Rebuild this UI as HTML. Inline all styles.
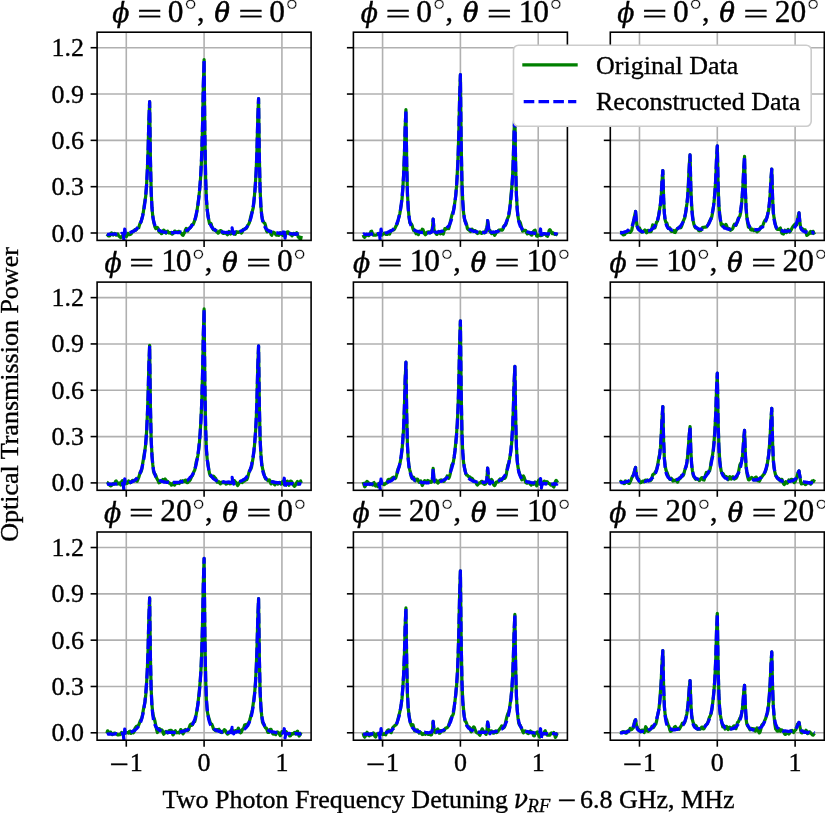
<!DOCTYPE html>
<html><head><meta charset="utf-8"><title>Optical Transmission Power</title>
<style>html,body{margin:0;padding:0;background:#fff;width:825px;height:813px;overflow:hidden}svg{display:block}</style>
</head><body>
<svg width="825" height="813" viewBox="0 0 825 813">
<defs>
<clipPath id="cp00"><rect x="97.1" y="32.2" width="214.0" height="208.2"/></clipPath>
<clipPath id="cp01"><rect x="353.4" y="32.2" width="214.0" height="208.2"/></clipPath>
<clipPath id="cp02"><rect x="610.3" y="32.2" width="214.0" height="208.2"/></clipPath>
<clipPath id="cp10"><rect x="97.1" y="282.1" width="214.0" height="208.2"/></clipPath>
<clipPath id="cp11"><rect x="353.4" y="282.1" width="214.0" height="208.2"/></clipPath>
<clipPath id="cp12"><rect x="610.3" y="282.1" width="214.0" height="208.2"/></clipPath>
<clipPath id="cp20"><rect x="97.1" y="532.0" width="214.0" height="208.2"/></clipPath>
<clipPath id="cp21"><rect x="353.4" y="532.0" width="214.0" height="208.2"/></clipPath>
<clipPath id="cp22"><rect x="610.3" y="532.0" width="214.0" height="208.2"/></clipPath>
</defs>
<rect x="0" y="0" width="825" height="813" fill="#ffffff"/>
<g stroke="#b0b0b0" stroke-width="1.6" clip-path="url(#cp00)"><line x1="126.28" y1="32.20" x2="126.28" y2="240.40"/><line x1="204.10" y1="32.20" x2="204.10" y2="240.40"/><line x1="281.92" y1="32.20" x2="281.92" y2="240.40"/><line x1="97.10" y1="233.00" x2="311.10" y2="233.00"/><line x1="97.10" y1="186.68" x2="311.10" y2="186.68"/><line x1="97.10" y1="140.36" x2="311.10" y2="140.36"/><line x1="97.10" y1="94.04" x2="311.10" y2="94.04"/><line x1="97.10" y1="47.72" x2="311.10" y2="47.72"/></g>
<g fill="none" stroke-linejoin="round" clip-path="url(#cp00)">
<path d="M106.83,234.15L107.61,235.01L108.38,235.82L109.16,235.97L109.94,235.70L110.72,233.98L111.50,232.89L112.27,234.37L113.05,234.94L113.83,233.74L114.61,233.35L115.39,234.32L116.17,235.14L116.94,234.22L117.72,233.99L118.50,235.43L119.28,236.41L120.06,237.19L120.83,237.60L121.61,236.87L122.39,235.83L123.17,235.11L123.95,233.87L124.73,233.21L125.50,234.98L126.28,236.68L127.06,235.29L127.84,233.29L128.62,233.63L129.39,234.69L130.17,234.51L130.95,234.15L131.73,232.87L132.51,231.34L133.29,231.65L134.06,230.88L134.84,229.73L135.62,230.10L136.40,229.62L137.18,228.32L137.95,228.09L138.73,227.77L139.51,224.87L140.29,222.67L141.07,221.96L141.85,218.85L142.62,215.78L143.40,211.91L144.18,205.43L144.96,200.86L145.74,196.00L146.51,185.78L147.29,171.24L148.07,150.41L148.85,120.72L149.63,101.66L150.41,158.38L151.18,190.59L151.96,207.45L152.74,216.12L153.52,220.80L154.30,224.34L155.07,227.28L155.85,228.61L156.63,228.25L157.41,227.41L158.19,228.61L158.97,231.63L159.74,232.05L160.52,231.94L161.30,233.61L162.08,233.39L162.86,231.43L163.63,230.11L164.41,230.74L165.19,232.44L165.97,233.14L166.75,232.05L167.53,231.10L168.30,232.36L169.08,233.04L169.86,232.50L170.64,232.75L171.42,233.70L172.19,234.19L172.97,233.68L173.75,232.56L174.53,231.18L175.31,231.21L176.09,231.88L176.86,232.01L177.64,231.91L178.42,231.41L179.20,231.40L179.98,232.35L180.75,233.15L181.53,233.39L182.31,234.90L183.09,235.32L183.87,233.60L184.65,232.39L185.42,229.95L186.20,228.34L186.98,230.27L187.76,230.93L188.54,229.12L189.31,228.07L190.09,228.00L190.87,227.05L191.65,225.07L192.43,224.47L193.21,224.42L193.98,222.39L194.76,220.20L195.54,218.06L196.32,214.64L197.10,210.21L197.87,204.37L198.65,198.34L199.43,191.93L200.21,183.07L200.99,171.46L201.77,154.99L202.54,126.65L203.32,85.53L204.10,59.51L204.88,135.53L205.66,179.93L206.43,199.61L207.21,209.67L207.99,215.35L208.77,220.18L209.55,223.66L210.33,223.19L211.10,223.67L211.88,226.62L212.66,228.60L213.44,229.79L214.22,230.04L214.99,229.50L215.77,230.34L216.55,231.51L217.33,232.30L218.11,233.18L218.89,232.55L219.66,230.94L220.44,230.60L221.22,230.81L222.00,231.83L222.78,233.13L223.55,233.34L224.33,233.14L225.11,232.89L225.89,233.02L226.67,233.85L227.45,234.78L228.22,233.30L229.00,231.41L229.78,232.96L230.56,233.97L231.34,231.88L232.11,231.46L232.89,233.46L233.67,233.89L234.45,234.27L235.23,234.31L236.01,232.36L236.78,231.61L237.56,232.32L238.34,232.37L239.12,231.84L239.90,231.87L240.67,232.33L241.45,233.03L242.23,231.88L243.01,229.60L243.79,229.34L244.57,229.14L245.34,228.64L246.12,228.59L246.90,227.31L247.68,225.43L248.46,224.42L249.23,223.05L250.01,220.06L250.79,216.43L251.57,213.50L252.35,211.01L253.13,208.22L253.90,202.63L254.68,192.99L255.46,182.48L256.24,169.48L257.02,147.83L257.79,117.59L258.57,98.57L259.35,156.65L260.13,190.27L260.91,206.05L261.69,215.17L262.46,219.40L263.24,221.49L264.02,222.81L264.80,223.16L265.58,225.76L266.35,230.36L267.13,231.79L267.91,230.78L268.69,231.34L269.47,231.11L270.25,231.30L271.02,234.32L271.80,235.19L272.58,232.96L273.36,232.16L274.14,232.62L274.91,233.14L275.69,234.56L276.47,235.19L277.25,234.55L278.03,235.20L278.81,235.29L279.58,233.53L280.36,232.72L281.14,233.40L281.92,234.65L282.70,235.35L283.47,235.54L284.25,235.01L285.03,234.28L285.81,234.16L286.59,233.43L287.37,231.80L288.14,231.87L288.92,233.62L289.70,233.55L290.48,233.34L291.26,234.72L292.03,235.83L292.81,234.81L293.59,233.29L294.37,233.48L295.15,234.02L295.93,233.53L296.70,232.74L297.48,234.61L298.26,237.03L299.04,237.31L299.82,238.72L300.59,239.41L301.37,235.82" stroke="#008000" stroke-width="3.2"/>
<path d="M106.83,234.33L107.61,234.55L108.38,234.49L109.16,234.09L109.94,234.25L110.72,234.25L111.50,234.25L112.27,234.21L113.05,234.04L113.83,234.06L114.61,234.10L115.39,234.30L116.17,233.98L116.94,234.17L117.72,233.80L118.50,234.20L119.28,233.94L120.06,233.87L120.83,234.06L121.61,233.43L122.39,233.41L123.17,233.70L123.95,240.34L124.73,229.05L125.50,233.83L126.28,233.19L127.06,233.12L127.84,232.96L128.62,233.02L129.39,232.69L130.17,232.47L130.95,231.99L131.73,231.89L132.51,231.65L133.29,231.01L134.06,230.99L134.84,230.49L135.62,230.20L136.40,228.91L137.18,228.25L137.95,227.33L138.73,226.26L139.51,225.02L140.29,223.38L141.07,221.48L141.85,219.06L142.62,216.05L143.40,212.13L144.18,207.79L144.96,202.27L145.74,195.17L146.51,185.61L147.29,171.57L148.07,150.84L148.85,120.98L149.63,101.66L150.41,159.11L151.18,192.32L151.96,207.46L152.74,215.76L153.52,220.49L154.30,223.54L155.07,225.57L155.85,227.39L156.63,228.25L157.41,229.21L158.19,229.56L158.97,230.40L159.74,230.58L160.52,230.76L161.30,231.40L162.08,231.70L162.86,231.76L163.63,231.97L164.41,232.30L165.19,232.16L165.97,231.98L166.75,232.49L167.53,232.56L168.30,232.77L169.08,232.57L169.86,232.90L170.64,232.91L171.42,232.48L172.19,232.90L172.97,232.53L173.75,232.44L174.53,232.66L175.31,232.58L176.09,232.28L176.86,232.63L177.64,232.64L178.42,232.71L179.20,232.37L179.98,232.00L180.75,231.98L181.53,232.20L182.31,232.03L183.09,231.78L183.87,231.42L184.65,231.27L185.42,230.91L186.20,230.57L186.98,230.30L187.76,229.81L188.54,229.25L189.31,228.69L190.09,227.87L190.87,226.77L191.65,225.99L192.43,224.89L193.21,223.76L193.98,221.62L194.76,219.93L195.54,217.24L196.32,213.65L197.10,209.79L197.87,205.17L198.65,199.53L199.43,191.87L200.21,182.47L200.99,169.65L201.77,151.43L202.54,124.28L203.32,84.99L204.10,59.51L204.88,135.01L205.66,178.83L206.43,199.17L207.21,209.56L207.99,216.07L208.77,219.68L209.55,222.45L210.33,224.43L211.10,226.20L211.88,227.15L212.66,228.16L213.44,228.92L214.22,229.49L214.99,230.15L215.77,230.58L216.55,230.51L217.33,230.98L218.11,231.15L218.89,231.22L219.66,231.91L220.44,231.89L221.22,231.85L222.00,231.93L222.78,232.18L223.55,232.01L224.33,232.24L225.11,232.56L225.89,232.57L226.67,232.29L227.45,232.38L228.22,232.85L229.00,232.26L229.78,232.40L230.56,232.26L231.34,232.57L232.11,227.90L232.89,232.65L233.67,233.77L234.45,232.36L235.23,231.96L236.01,232.29L236.78,232.03L237.56,232.25L238.34,231.86L239.12,231.43L239.90,231.64L240.67,230.97L241.45,230.83L242.23,230.75L243.01,230.26L243.79,229.79L244.57,229.17L245.34,228.61L246.12,227.89L246.90,226.87L247.68,225.89L248.46,224.58L249.23,222.71L250.01,220.54L250.79,218.54L251.57,215.25L252.35,211.66L253.13,207.13L253.90,201.05L254.68,193.97L255.46,183.85L256.24,170.36L257.02,148.79L257.79,118.31L258.57,98.57L259.35,157.14L260.13,191.21L260.91,206.73L261.69,215.11L262.46,220.18L263.24,223.14L264.02,225.26L264.80,226.64L265.58,228.15L266.35,228.88L267.13,229.89L267.91,230.02L268.69,230.80L269.47,231.32L270.25,231.33L271.02,231.39L271.80,232.11L272.58,232.24L273.36,232.36L274.14,232.59L274.91,232.45L275.69,232.80L276.47,232.90L277.25,232.76L278.03,233.10L278.81,232.96L279.58,233.30L280.36,233.41L281.14,233.59L281.92,232.97L282.70,233.43L283.47,233.38L284.25,228.84L285.03,238.12L285.81,233.55L286.59,233.24L287.37,233.82L288.14,233.95L288.92,233.88L289.70,233.97L290.48,233.62L291.26,233.63L292.03,233.99L292.81,234.09L293.59,233.92L294.37,233.62L295.15,234.42L295.93,233.82L296.70,234.14L297.48,233.76L298.26,234.17L299.04,234.04L299.82,234.28L300.59,234.20L301.37,233.78" stroke="#0000ff" stroke-width="3.2" stroke-dasharray="10.6,4.2"/>
</g>
<rect x="97.1" y="32.2" width="214.0" height="208.2" fill="none" stroke="#000" stroke-width="1.6"/>
<g stroke="#000" stroke-width="1.6"><line x1="126.28" y1="240.40" x2="126.28" y2="246.90"/><line x1="204.10" y1="240.40" x2="204.10" y2="246.90"/><line x1="281.92" y1="240.40" x2="281.92" y2="246.90"/><line x1="90.60" y1="233.00" x2="97.10" y2="233.00"/><line x1="90.60" y1="186.68" x2="97.10" y2="186.68"/><line x1="90.60" y1="140.36" x2="97.10" y2="140.36"/><line x1="90.60" y1="94.04" x2="97.10" y2="94.04"/><line x1="90.60" y1="47.72" x2="97.10" y2="47.72"/></g>
<g stroke="#b0b0b0" stroke-width="1.6" clip-path="url(#cp01)"><line x1="382.58" y1="32.20" x2="382.58" y2="240.40"/><line x1="460.40" y1="32.20" x2="460.40" y2="240.40"/><line x1="538.22" y1="32.20" x2="538.22" y2="240.40"/><line x1="353.40" y1="233.00" x2="567.40" y2="233.00"/><line x1="353.40" y1="186.68" x2="567.40" y2="186.68"/><line x1="353.40" y1="140.36" x2="567.40" y2="140.36"/><line x1="353.40" y1="94.04" x2="567.40" y2="94.04"/><line x1="353.40" y1="47.72" x2="567.40" y2="47.72"/></g>
<g fill="none" stroke-linejoin="round" clip-path="url(#cp01)">
<path d="M363.13,234.88L363.91,236.77L364.68,237.36L365.46,235.95L366.24,234.63L367.02,234.46L367.80,235.10L368.57,235.68L369.35,235.00L370.13,233.51L370.91,231.53L371.69,231.22L372.47,233.62L373.24,235.12L374.02,234.95L374.80,235.22L375.58,235.25L376.36,235.06L377.13,234.79L377.91,233.77L378.69,233.36L379.47,233.55L380.25,234.11L381.03,235.07L381.80,235.14L382.58,234.51L383.36,233.87L384.14,233.13L384.92,233.61L385.69,234.36L386.47,234.12L387.25,234.30L388.03,233.84L388.81,233.80L389.59,234.11L390.36,232.17L391.14,230.54L391.92,230.51L392.70,230.36L393.48,230.09L394.25,229.49L395.03,228.13L395.81,226.39L396.59,225.04L397.37,223.49L398.15,220.32L398.92,216.96L399.70,214.11L400.48,209.80L401.26,204.81L402.04,198.84L402.81,188.77L403.59,174.92L404.37,155.28L405.15,127.76L405.93,109.69L406.71,163.73L407.48,194.00L408.26,208.24L409.04,217.23L409.82,222.67L410.60,223.74L411.37,223.82L412.15,225.50L412.93,228.65L413.71,230.56L414.49,229.92L415.27,231.65L416.04,233.83L416.82,233.22L417.60,233.88L418.38,234.60L419.16,232.74L419.93,231.21L420.71,231.79L421.49,231.24L422.27,229.28L423.05,229.68L423.83,231.95L424.60,233.80L425.38,234.80L426.16,234.09L426.94,232.45L427.72,231.98L428.49,231.79L429.27,231.92L430.05,232.98L430.83,232.50L431.61,230.68L432.39,228.93L433.16,219.16L433.94,229.17L434.72,231.60L435.50,232.47L436.28,234.18L437.05,234.41L437.83,232.44L438.61,231.54L439.39,232.54L440.17,233.75L440.95,233.29L441.72,232.68L442.50,233.68L443.28,234.01L444.06,231.40L444.84,228.62L445.61,228.53L446.39,229.01L447.17,227.66L447.95,227.57L448.73,228.64L449.51,225.87L450.28,221.80L451.06,218.68L451.84,215.35L452.62,213.02L453.40,210.80L454.17,206.63L454.95,201.43L455.73,195.66L456.51,186.64L457.29,173.08L458.07,156.13L458.84,132.80L459.62,97.74L460.40,74.49L461.18,142.84L461.96,181.92L462.73,200.85L463.51,212.11L464.29,218.38L465.07,221.02L465.85,222.22L466.63,224.67L467.40,228.57L468.18,229.67L468.96,229.23L469.74,230.84L470.52,231.47L471.29,229.69L472.07,229.17L472.85,230.39L473.63,230.91L474.41,230.68L475.19,230.69L475.96,231.22L476.74,232.93L477.52,233.56L478.30,232.90L479.08,232.62L479.85,231.84L480.63,232.28L481.41,233.40L482.19,233.20L482.97,232.37L483.75,232.02L484.52,232.95L485.30,232.50L486.08,229.35L486.86,228.09L487.64,220.70L488.41,229.34L489.19,230.60L489.97,230.33L490.75,232.16L491.53,233.53L492.31,232.50L493.08,232.14L493.86,233.87L494.64,235.38L495.42,234.21L496.20,232.24L496.97,232.11L497.75,231.77L498.53,230.45L499.31,229.98L500.09,229.97L500.87,229.89L501.64,230.17L502.42,230.08L503.20,228.45L503.98,225.97L504.76,225.30L505.53,225.16L506.31,223.28L507.09,220.17L507.87,217.70L508.65,216.28L509.43,212.53L510.20,204.58L510.98,195.16L511.76,187.31L512.54,176.73L513.32,156.67L514.09,130.53L514.87,114.17L515.65,165.99L516.43,194.63L517.21,208.30L517.99,216.53L518.76,220.70L519.54,221.40L520.32,222.80L521.10,225.60L521.88,228.79L522.65,231.16L523.43,230.71L524.21,230.24L524.99,230.25L525.77,230.53L526.55,232.70L527.32,233.94L528.10,233.16L528.88,233.19L529.66,233.69L530.44,233.76L531.21,234.91L531.99,235.11L532.77,232.74L533.55,231.36L534.33,230.48L535.11,230.17L535.88,233.15L536.66,236.03L537.44,236.28L538.22,235.74L539.00,234.79L539.77,234.96L540.55,235.74L541.33,235.33L542.11,235.10L542.89,234.32L543.67,233.88L544.44,234.26L545.22,234.40L546.00,234.88L546.78,235.92L547.56,236.28L548.33,233.84L549.11,230.54L549.89,229.67L550.67,230.77L551.45,232.75L552.23,233.52L553.00,232.73L553.78,233.28L554.56,234.34L555.34,234.40L556.12,234.40L556.89,234.61L557.67,235.11" stroke="#008000" stroke-width="3.2"/>
<path d="M363.13,234.44L363.91,233.93L364.68,234.35L365.46,234.37L366.24,234.21L367.02,234.15L367.80,234.47L368.57,234.28L369.35,234.05L370.13,234.15L370.91,234.15L371.69,233.86L372.47,234.24L373.24,234.07L374.02,234.14L374.80,233.73L375.58,234.32L376.36,234.04L377.13,233.96L377.91,233.69L378.69,233.64L379.47,233.42L380.25,240.85L381.03,229.06L381.80,233.48L382.58,233.45L383.36,233.11L384.14,233.25L384.92,233.32L385.69,232.84L386.47,232.86L387.25,232.48L388.03,232.05L388.81,231.77L389.59,231.21L390.36,231.16L391.14,230.96L391.92,230.29L392.70,229.71L393.48,229.03L394.25,227.85L395.03,227.01L395.81,225.99L396.59,223.97L397.37,222.26L398.15,219.90L398.92,217.17L399.70,213.64L400.48,209.51L401.26,203.99L402.04,197.38L402.81,188.39L403.59,175.58L404.37,156.26L405.15,127.86L405.93,109.69L406.71,163.58L407.48,195.12L408.26,208.96L409.04,216.81L409.82,221.53L410.60,224.50L411.37,226.20L412.15,227.57L412.93,228.73L413.71,229.38L414.49,230.14L415.27,230.42L416.04,231.07L416.82,231.27L417.60,231.36L418.38,231.30L419.16,232.15L419.93,232.22L420.71,232.43L421.49,232.24L422.27,232.70L423.05,232.66L423.83,232.64L424.60,232.87L425.38,232.91L426.16,232.85L426.94,233.17L427.72,233.05L428.49,232.84L429.27,232.68L430.05,232.65L430.83,232.74L431.61,231.96L432.39,229.58L433.16,219.16L433.94,229.55L434.72,231.84L435.50,232.00L436.28,232.32L437.05,232.41L437.83,232.27L438.61,231.74L439.39,231.82L440.17,231.47L440.95,231.56L441.72,231.05L442.50,231.04L443.28,230.62L444.06,229.73L444.84,229.58L445.61,229.26L446.39,228.53L447.17,227.68L447.95,226.59L448.73,225.81L449.51,224.71L450.28,222.84L451.06,220.84L451.84,218.46L452.62,215.34L453.40,211.97L454.17,207.50L454.95,202.44L455.73,195.30L456.51,186.42L457.29,175.17L458.07,158.88L458.84,133.72L459.62,97.60L460.40,74.49L461.18,143.53L461.96,183.49L462.73,201.87L463.51,211.80L464.29,217.40L465.07,221.20L465.85,223.65L466.63,225.51L467.40,227.05L468.18,227.88L468.96,228.53L469.74,229.52L470.52,229.92L471.29,230.19L472.07,230.88L472.85,230.96L473.63,231.45L474.41,231.27L475.19,231.24L475.96,231.47L476.74,232.03L477.52,231.97L478.30,232.19L479.08,232.29L479.85,232.10L480.63,232.69L481.41,232.30L482.19,232.54L482.97,232.28L483.75,232.50L484.52,232.60L485.30,232.27L486.08,231.74L486.86,229.93L487.64,220.70L488.41,225.31L489.19,232.21L489.97,233.91L490.75,232.21L491.53,232.33L492.31,232.31L493.08,232.07L493.86,232.25L494.64,232.18L495.42,231.94L496.20,231.51L496.97,231.78L497.75,231.05L498.53,231.10L499.31,230.85L500.09,230.01L500.87,229.78L501.64,229.43L502.42,228.57L503.20,227.51L503.98,226.48L504.76,225.58L505.53,223.98L506.31,222.15L507.09,220.23L507.87,217.39L508.65,214.18L509.43,210.21L510.20,205.12L510.98,198.52L511.76,189.90L512.54,177.70L513.32,158.77L514.09,131.54L514.87,114.17L515.65,165.99L516.43,195.94L517.21,209.91L517.99,216.91L518.76,221.80L519.54,224.28L520.32,226.40L521.10,227.36L521.88,228.42L522.65,229.88L523.43,230.32L524.21,230.52L524.99,230.91L525.77,231.26L526.55,231.70L527.32,231.85L528.10,232.02L528.88,232.34L529.66,232.30L530.44,233.05L531.21,232.64L531.99,233.06L532.77,232.79L533.55,233.10L534.33,233.31L535.11,233.15L535.88,233.46L536.66,233.52L537.44,233.70L538.22,233.47L539.00,233.42L539.77,233.37L540.55,228.99L541.33,238.08L542.11,233.67L542.89,233.73L543.67,233.63L544.44,233.58L545.22,233.86L546.00,233.87L546.78,233.88L547.56,233.86L548.33,234.07L549.11,233.73L549.89,234.02L550.67,233.88L551.45,234.13L552.23,233.93L553.00,233.94L553.78,234.11L554.56,233.67L555.34,233.99L556.12,233.75L556.89,233.91L557.67,234.22" stroke="#0000ff" stroke-width="3.2" stroke-dasharray="10.6,4.2"/>
</g>
<rect x="353.4" y="32.2" width="214.0" height="208.2" fill="none" stroke="#000" stroke-width="1.6"/>
<g stroke="#000" stroke-width="1.6"><line x1="382.58" y1="240.40" x2="382.58" y2="246.90"/><line x1="460.40" y1="240.40" x2="460.40" y2="246.90"/><line x1="538.22" y1="240.40" x2="538.22" y2="246.90"/><line x1="346.90" y1="233.00" x2="353.40" y2="233.00"/><line x1="346.90" y1="186.68" x2="353.40" y2="186.68"/><line x1="346.90" y1="140.36" x2="353.40" y2="140.36"/><line x1="346.90" y1="94.04" x2="353.40" y2="94.04"/><line x1="346.90" y1="47.72" x2="353.40" y2="47.72"/></g>
<g stroke="#b0b0b0" stroke-width="1.6" clip-path="url(#cp02)"><line x1="639.48" y1="32.20" x2="639.48" y2="240.40"/><line x1="717.30" y1="32.20" x2="717.30" y2="240.40"/><line x1="795.12" y1="32.20" x2="795.12" y2="240.40"/><line x1="610.30" y1="233.00" x2="824.30" y2="233.00"/><line x1="610.30" y1="186.68" x2="824.30" y2="186.68"/><line x1="610.30" y1="140.36" x2="824.30" y2="140.36"/><line x1="610.30" y1="94.04" x2="824.30" y2="94.04"/><line x1="610.30" y1="47.72" x2="824.30" y2="47.72"/></g>
<g fill="none" stroke-linejoin="round" clip-path="url(#cp02)">
<path d="M620.03,232.46L620.81,232.34L621.58,232.68L622.36,233.89L623.14,234.83L623.92,234.87L624.70,234.57L625.47,233.09L626.25,232.57L627.03,232.58L627.81,231.28L628.59,230.92L629.37,232.24L630.14,232.48L630.92,231.50L631.70,230.43L632.48,226.61L633.26,222.25L634.03,219.44L634.81,214.88L635.59,211.44L636.37,220.99L637.15,226.34L637.93,228.47L638.70,228.11L639.48,227.97L640.26,229.60L641.04,231.55L641.82,232.14L642.59,231.53L643.37,230.98L644.15,230.71L644.93,230.00L645.71,230.55L646.49,232.82L647.26,232.17L648.04,230.30L648.82,231.10L649.60,231.77L650.38,231.72L651.15,231.42L651.93,228.39L652.71,224.87L653.49,225.62L654.27,228.03L655.05,227.68L655.82,224.74L656.60,222.15L657.38,221.28L658.16,218.62L658.94,213.28L659.71,208.60L660.49,204.13L661.27,196.18L662.05,180.80L662.83,170.52L663.61,198.44L664.38,213.76L665.16,220.10L665.94,222.49L666.72,222.75L667.50,225.51L668.27,228.41L669.05,227.82L669.83,227.83L670.61,230.35L671.39,231.41L672.17,231.52L672.94,230.99L673.72,230.49L674.50,232.42L675.28,232.52L676.06,230.49L676.83,229.41L677.61,228.47L678.39,227.91L679.17,227.02L679.95,226.92L680.73,227.84L681.50,226.55L682.28,224.23L683.06,221.88L683.84,219.83L684.62,218.35L685.39,214.56L686.17,208.74L686.95,203.45L687.73,195.35L688.51,180.32L689.29,164.99L690.06,154.93L690.84,188.00L691.62,204.13L692.40,214.11L693.18,220.73L693.95,224.51L694.73,226.69L695.51,227.84L696.29,228.06L697.07,227.94L697.85,228.94L698.62,230.39L699.40,230.78L700.18,230.43L700.96,230.32L701.74,229.16L702.51,227.52L703.29,227.28L704.07,227.29L704.85,227.16L705.63,227.19L706.41,227.05L707.18,225.93L707.96,224.86L708.74,223.74L709.52,221.19L710.30,219.87L711.07,219.09L711.85,216.45L712.63,212.36L713.41,207.32L714.19,200.53L714.97,191.11L715.74,179.55L716.52,159.87L717.30,145.82L718.08,184.33L718.86,205.47L719.63,213.17L720.41,219.41L721.19,224.76L721.97,225.68L722.75,224.47L723.53,225.79L724.30,227.06L725.08,225.61L725.86,224.32L726.64,225.78L727.42,227.85L728.19,228.18L728.97,228.45L729.75,229.94L730.53,230.38L731.31,229.67L732.09,229.34L732.86,228.35L733.64,225.74L734.42,224.18L735.20,225.36L735.98,225.35L736.75,223.28L737.53,220.57L738.31,218.35L739.09,217.47L739.87,216.08L740.65,212.74L741.42,206.04L742.20,196.37L742.98,184.75L743.76,167.95L744.54,156.32L745.31,189.11L746.09,207.93L746.87,217.51L747.65,223.29L748.43,227.27L749.21,227.47L749.98,227.19L750.76,229.79L751.54,230.09L752.32,229.09L753.10,230.02L753.87,230.65L754.65,230.11L755.43,229.70L756.21,230.83L756.99,231.93L757.77,231.23L758.54,230.66L759.32,229.99L760.10,228.28L760.88,226.72L761.66,226.44L762.43,226.39L763.21,224.49L763.99,222.26L764.77,220.63L765.55,219.57L766.33,219.15L767.10,216.84L767.88,213.56L768.66,210.09L769.44,203.45L770.22,193.29L770.99,178.95L771.77,168.98L772.55,197.35L773.33,212.50L774.11,218.19L774.89,222.04L775.66,225.62L776.44,228.24L777.22,229.35L778.00,229.36L778.78,229.42L779.55,228.50L780.33,227.99L781.11,230.56L781.89,233.19L782.67,233.80L783.45,234.08L784.22,232.69L785.00,230.22L785.78,231.07L786.56,232.48L787.34,230.51L788.11,229.35L788.89,230.99L789.67,231.95L790.45,231.12L791.23,229.64L792.01,228.12L792.78,226.73L793.56,225.75L794.34,224.84L795.12,224.02L795.90,224.66L796.67,224.84L797.45,221.09L798.23,215.69L799.01,212.83L799.79,221.24L800.57,226.97L801.34,229.32L802.12,228.52L802.90,229.04L803.68,230.09L804.46,229.77L805.23,229.85L806.01,232.50L806.79,235.36L807.57,234.89L808.35,233.97L809.13,233.84L809.90,232.21L810.68,231.38L811.46,233.23L812.24,233.16L813.02,231.29L813.79,232.87L814.57,234.44" stroke="#008000" stroke-width="3.2"/>
<path d="M620.03,232.71L620.81,232.83L621.58,232.46L622.36,232.58L623.14,232.52L623.92,232.16L624.70,231.86L625.47,231.89L626.25,231.43L627.03,231.17L627.81,230.23L628.59,230.38L629.37,229.39L630.14,228.90L630.92,227.98L631.70,226.63L632.48,225.02L633.26,222.71L634.03,219.45L634.81,214.66L635.59,211.44L636.37,220.69L637.15,225.99L637.93,228.29L638.70,229.73L639.48,230.33L640.26,230.68L641.04,231.20L641.82,231.68L642.59,231.71L643.37,231.80L644.15,231.24L644.93,231.65L645.71,231.19L646.49,231.20L647.26,230.84L648.04,230.78L648.82,230.76L649.60,230.49L650.38,230.09L651.15,229.65L651.93,229.27L652.71,228.55L653.49,227.49L654.27,227.18L655.05,225.68L655.82,224.50L656.60,222.58L657.38,220.33L658.16,217.84L658.94,214.30L659.71,210.23L660.49,203.32L661.27,193.80L662.05,179.57L662.83,170.52L663.61,197.58L664.38,213.09L665.16,220.04L665.94,223.52L666.72,225.93L667.50,227.30L668.27,228.51L669.05,228.60L669.83,228.95L670.61,229.57L671.39,229.80L672.17,230.16L672.94,229.72L673.72,229.35L674.50,229.62L675.28,229.36L676.06,229.27L676.83,229.26L677.61,228.44L678.39,228.44L679.17,227.65L679.95,226.82L680.73,225.80L681.50,224.76L682.28,223.38L683.06,221.88L683.84,219.87L684.62,216.99L685.39,213.85L686.17,209.76L686.95,204.16L687.73,196.06L688.51,184.08L689.29,166.33L690.06,154.93L690.84,188.38L691.62,207.71L692.40,216.31L693.18,221.62L693.95,224.19L694.73,225.62L695.51,226.97L696.29,227.78L697.07,227.95L697.85,228.71L698.62,229.11L699.40,229.29L700.18,229.06L700.96,229.05L701.74,229.28L702.51,229.06L703.29,228.55L704.07,228.22L704.85,228.04L705.63,227.29L706.41,226.65L707.18,226.27L707.96,225.00L708.74,223.62L709.52,222.27L710.30,220.67L711.07,217.98L711.85,214.87L712.63,211.06L713.41,207.08L714.19,199.97L714.97,191.79L715.74,177.76L716.52,158.33L717.30,145.82L718.08,183.18L718.86,205.07L719.63,214.69L720.41,220.16L721.19,223.55L721.97,224.50L722.75,226.20L723.53,226.90L724.30,228.05L725.08,228.07L725.86,228.37L726.64,228.59L727.42,229.01L728.19,229.28L728.97,229.07L729.75,229.35L730.53,229.09L731.31,228.52L732.09,228.39L732.86,227.80L733.64,227.24L734.42,226.17L735.20,225.43L735.98,224.61L736.75,223.04L737.53,221.76L738.31,219.63L739.09,216.85L739.87,214.05L740.65,209.78L741.42,204.52L742.20,196.46L742.98,184.21L743.76,167.44L744.54,156.32L745.31,189.22L746.09,208.41L746.87,217.18L747.65,221.28L748.43,223.81L749.21,225.88L749.98,227.26L750.76,227.80L751.54,228.57L752.32,228.78L753.10,229.17L753.87,229.37L754.65,229.44L755.43,229.71L756.21,229.68L756.99,229.86L757.77,229.50L758.54,229.49L759.32,228.99L760.10,228.79L760.88,228.14L761.66,227.51L762.43,227.15L763.21,226.15L763.99,225.07L764.77,223.39L765.55,221.51L766.33,219.55L767.10,217.11L767.88,213.35L768.66,209.35L769.44,202.29L770.22,192.68L770.99,178.43L771.77,168.98L772.55,196.39L773.33,212.67L774.11,219.80L774.89,223.75L775.66,225.98L776.44,227.75L777.22,228.60L778.00,229.11L778.78,229.69L779.55,229.91L780.33,230.42L781.11,230.24L781.89,230.99L782.67,230.95L783.45,231.45L784.22,231.40L785.00,230.96L785.78,231.39L786.56,231.09L787.34,231.14L788.11,231.23L788.89,230.97L789.67,230.82L790.45,230.57L791.23,230.03L792.01,229.64L792.78,229.37L793.56,228.79L794.34,227.75L795.12,226.78L795.90,225.16L796.67,222.83L797.45,220.04L798.23,215.72L799.01,212.83L799.79,221.56L800.57,226.70L801.34,229.05L802.12,230.17L802.90,230.91L803.68,231.17L804.46,231.72L805.23,231.92L806.01,232.30L806.79,231.91L807.57,232.24L808.35,232.10L809.13,232.36L809.90,232.30L810.68,232.68L811.46,232.55L812.24,232.23L813.02,233.00L813.79,232.59L814.57,232.52" stroke="#0000ff" stroke-width="3.2" stroke-dasharray="10.6,4.2"/>
</g>
<rect x="610.3" y="32.2" width="214.0" height="208.2" fill="none" stroke="#000" stroke-width="1.6"/>
<g stroke="#000" stroke-width="1.6"><line x1="639.48" y1="240.40" x2="639.48" y2="246.90"/><line x1="717.30" y1="240.40" x2="717.30" y2="246.90"/><line x1="795.12" y1="240.40" x2="795.12" y2="246.90"/><line x1="603.80" y1="233.00" x2="610.30" y2="233.00"/><line x1="603.80" y1="186.68" x2="610.30" y2="186.68"/><line x1="603.80" y1="140.36" x2="610.30" y2="140.36"/><line x1="603.80" y1="94.04" x2="610.30" y2="94.04"/><line x1="603.80" y1="47.72" x2="610.30" y2="47.72"/></g>
<g stroke="#b0b0b0" stroke-width="1.6" clip-path="url(#cp10)"><line x1="126.28" y1="282.10" x2="126.28" y2="490.30"/><line x1="204.10" y1="282.10" x2="204.10" y2="490.30"/><line x1="281.92" y1="282.10" x2="281.92" y2="490.30"/><line x1="97.10" y1="482.90" x2="311.10" y2="482.90"/><line x1="97.10" y1="436.58" x2="311.10" y2="436.58"/><line x1="97.10" y1="390.26" x2="311.10" y2="390.26"/><line x1="97.10" y1="343.94" x2="311.10" y2="343.94"/><line x1="97.10" y1="297.62" x2="311.10" y2="297.62"/></g>
<g fill="none" stroke-linejoin="round" clip-path="url(#cp10)">
<path d="M106.83,482.29L107.61,482.62L108.38,483.98L109.16,484.61L109.94,485.39L110.72,485.88L111.50,485.38L112.27,484.56L113.05,483.70L113.83,484.27L114.61,484.26L115.39,481.71L116.17,480.87L116.94,482.53L117.72,483.92L118.50,483.82L119.28,482.91L120.06,483.92L120.83,485.03L121.61,481.94L122.39,480.64L123.17,483.33L123.95,483.07L124.73,482.29L125.50,482.25L126.28,482.18L127.06,483.45L127.84,482.42L128.62,480.86L129.39,482.05L130.17,482.80L130.95,482.39L131.73,481.25L132.51,480.33L133.29,480.67L134.06,480.87L134.84,480.71L135.62,479.55L136.40,480.16L137.18,481.28L137.95,479.31L138.73,477.48L139.51,474.74L140.29,471.85L141.07,471.79L141.85,469.29L142.62,463.89L143.40,459.28L144.18,454.36L144.96,449.81L145.74,444.01L146.51,432.93L147.29,416.73L148.07,394.94L148.85,365.23L149.63,345.23L150.41,405.52L151.18,439.79L151.96,454.22L152.74,464.19L153.52,471.36L154.30,473.72L155.07,474.08L155.85,475.49L156.63,477.99L157.41,479.59L158.19,480.81L158.97,482.81L159.74,482.56L160.52,480.90L161.30,480.96L162.08,480.44L162.86,479.44L163.63,480.20L164.41,480.18L165.19,479.01L165.97,480.25L166.75,481.84L167.53,481.41L168.30,481.98L169.08,483.22L169.86,483.05L170.64,483.91L171.42,485.19L172.19,484.17L172.97,483.30L173.75,484.30L174.53,485.07L175.31,484.00L176.09,482.70L176.86,483.05L177.64,483.34L178.42,482.99L179.20,483.48L179.98,482.36L180.75,480.98L181.53,482.25L182.31,482.12L183.09,480.78L183.87,481.33L184.65,481.56L185.42,480.08L186.20,480.42L186.98,482.69L187.76,482.66L188.54,481.57L189.31,481.02L190.09,480.06L190.87,478.35L191.65,476.65L192.43,475.58L193.21,473.45L193.98,471.42L194.76,469.98L195.54,466.10L196.32,461.35L197.10,458.73L197.87,455.57L198.65,450.03L199.43,442.57L200.21,431.79L200.99,418.77L201.77,402.12L202.54,374.00L203.32,334.06L204.10,308.95L204.88,384.91L205.66,430.18L206.43,450.70L207.21,459.22L207.99,463.64L208.77,469.24L209.55,473.72L210.33,475.58L211.10,476.12L211.88,476.31L212.66,476.15L213.44,476.01L214.22,476.95L214.99,477.76L215.77,478.63L216.55,480.50L217.33,482.26L218.11,482.12L218.89,481.58L219.66,483.08L220.44,483.82L221.22,482.23L222.00,482.08L222.78,482.89L223.55,482.78L224.33,482.33L225.11,482.63L225.89,484.11L226.67,484.01L227.45,482.47L228.22,482.25L229.00,483.09L229.78,483.80L230.56,483.76L231.34,482.23L232.11,481.60L232.89,481.95L233.67,480.56L234.45,480.55L235.23,481.69L236.01,482.24L236.78,484.25L237.56,485.52L238.34,484.47L239.12,482.92L239.90,482.20L240.67,481.76L241.45,482.19L242.23,482.58L243.01,481.52L243.79,481.32L244.57,480.85L245.34,479.88L246.12,479.96L246.90,479.50L247.68,477.46L248.46,474.31L249.23,471.34L250.01,469.91L250.79,469.17L251.57,466.87L252.35,462.31L253.13,457.55L253.90,451.89L254.68,443.02L255.46,433.36L256.24,419.90L257.02,396.55L257.79,365.29L258.57,345.85L259.35,404.97L260.13,438.72L260.91,453.91L261.69,462.45L262.46,468.11L263.24,471.04L264.02,473.88L264.80,476.92L265.58,478.98L266.35,479.09L267.13,479.40L267.91,480.67L268.69,480.23L269.47,479.85L270.25,481.93L271.02,483.97L271.80,482.73L272.58,481.63L273.36,482.54L274.14,484.01L274.91,484.77L275.69,483.53L276.47,482.50L277.25,483.19L278.03,484.10L278.81,483.33L279.58,482.38L280.36,482.79L281.14,484.12L281.92,483.14L282.70,481.43L283.47,483.37L284.25,484.85L285.03,484.76L285.81,484.11L286.59,481.63L287.37,481.15L288.14,484.39L288.92,485.36L289.70,482.57L290.48,481.12L291.26,481.33L292.03,482.33L292.81,484.16L293.59,485.29L294.37,486.37L295.15,485.72L295.93,483.88L296.70,482.68L297.48,481.47L298.26,482.79L299.04,484.12L299.82,482.24L300.59,480.98L301.37,482.99" stroke="#008000" stroke-width="3.2"/>
<path d="M106.83,484.16L107.61,483.96L108.38,484.29L109.16,484.32L109.94,483.97L110.72,484.11L111.50,484.32L112.27,484.16L113.05,484.21L113.83,483.99L114.61,483.99L115.39,483.77L116.17,483.82L116.94,484.20L117.72,483.80L118.50,483.66L119.28,483.70L120.06,483.54L120.83,483.77L121.61,483.79L122.39,483.37L123.17,483.66L123.95,490.73L124.73,478.78L125.50,483.32L126.28,483.13L127.06,483.20L127.84,483.04L128.62,482.85L129.39,482.51L130.17,482.17L130.95,482.42L131.73,481.58L132.51,481.63L133.29,481.24L134.06,480.49L134.84,480.13L135.62,479.82L136.40,478.51L137.18,478.19L137.95,477.01L138.73,475.86L139.51,474.23L140.29,472.87L141.07,470.53L141.85,468.32L142.62,464.87L143.40,461.40L144.18,456.60L144.96,450.27L145.74,443.02L146.51,433.04L147.29,418.36L148.07,396.79L148.85,365.54L149.63,345.23L150.41,405.42L151.18,439.99L151.96,456.02L152.74,464.79L153.52,469.79L154.30,472.85L155.07,475.07L155.85,476.82L156.63,477.70L157.41,479.08L158.19,479.48L158.97,480.04L159.74,480.46L160.52,480.73L161.30,481.32L162.08,481.25L162.86,481.61L163.63,481.88L164.41,482.17L165.19,482.27L165.97,482.10L166.75,482.44L167.53,482.33L168.30,482.21L169.08,482.27L169.86,482.22L170.64,482.59L171.42,482.76L172.19,482.39L172.97,482.52L173.75,482.36L174.53,482.55L175.31,482.31L176.09,482.34L176.86,482.32L177.64,482.30L178.42,482.25L179.20,482.19L179.98,482.10L180.75,481.84L181.53,481.98L182.31,481.41L183.09,481.57L183.87,481.16L184.65,481.11L185.42,480.86L186.20,480.11L186.98,480.17L187.76,479.90L188.54,479.28L189.31,478.60L190.09,477.42L190.87,476.93L191.65,475.79L192.43,474.94L193.21,473.23L193.98,471.42L194.76,469.07L195.54,466.94L196.32,463.53L197.10,459.69L197.87,455.13L198.65,449.01L199.43,441.62L200.21,432.52L200.99,419.38L201.77,401.42L202.54,374.00L203.32,334.53L204.10,308.95L204.88,384.61L205.66,428.35L206.43,448.49L207.21,459.50L207.99,465.54L208.77,469.78L209.55,472.52L210.33,474.51L211.10,475.97L211.88,476.90L212.66,477.98L213.44,478.75L214.22,479.35L214.99,479.72L215.77,480.35L216.55,480.62L217.33,480.83L218.11,481.17L218.89,481.30L219.66,481.58L220.44,481.25L221.22,481.51L222.00,481.80L222.78,481.99L223.55,481.67L224.33,482.09L225.11,482.23L225.89,482.21L226.67,482.26L227.45,482.08L228.22,482.37L229.00,481.99L229.78,482.55L230.56,482.25L231.34,482.55L232.11,477.37L232.89,482.37L233.67,484.12L234.45,482.03L235.23,481.89L236.01,482.24L236.78,481.99L237.56,482.05L238.34,481.62L239.12,481.48L239.90,481.32L240.67,481.14L241.45,480.79L242.23,480.52L243.01,479.89L243.79,479.24L244.57,479.32L245.34,478.32L246.12,477.59L246.90,476.47L247.68,475.60L248.46,474.08L249.23,472.57L250.01,470.21L250.79,467.82L251.57,464.81L252.35,460.93L253.13,456.36L253.90,450.75L254.68,442.88L255.46,433.00L256.24,418.91L257.02,396.93L257.79,365.86L258.57,345.85L259.35,405.65L260.13,439.96L260.91,455.95L261.69,464.76L262.46,469.81L263.24,472.92L264.02,475.09L264.80,476.87L265.58,477.75L266.35,478.90L267.13,479.60L267.91,479.78L268.69,480.55L269.47,480.83L270.25,481.03L271.02,481.28L271.80,481.74L272.58,481.88L273.36,482.23L274.14,481.91L274.91,482.26L275.69,482.71L276.47,482.63L277.25,482.60L278.03,482.74L278.81,482.57L279.58,482.74L280.36,483.16L281.14,483.14L281.92,483.43L282.70,483.20L283.47,483.27L284.25,478.21L285.03,488.01L285.81,483.82L286.59,483.60L287.37,483.49L288.14,483.78L288.92,483.74L289.70,483.68L290.48,483.57L291.26,483.70L292.03,483.86L292.81,483.57L293.59,483.84L294.37,483.85L295.15,484.04L295.93,483.95L296.70,483.70L297.48,484.14L298.26,483.87L299.04,483.74L299.82,483.96L300.59,483.86L301.37,484.13" stroke="#0000ff" stroke-width="3.2" stroke-dasharray="10.6,4.2"/>
</g>
<rect x="97.1" y="282.1" width="214.0" height="208.2" fill="none" stroke="#000" stroke-width="1.6"/>
<g stroke="#000" stroke-width="1.6"><line x1="126.28" y1="490.30" x2="126.28" y2="496.80"/><line x1="204.10" y1="490.30" x2="204.10" y2="496.80"/><line x1="281.92" y1="490.30" x2="281.92" y2="496.80"/><line x1="90.60" y1="482.90" x2="97.10" y2="482.90"/><line x1="90.60" y1="436.58" x2="97.10" y2="436.58"/><line x1="90.60" y1="390.26" x2="97.10" y2="390.26"/><line x1="90.60" y1="343.94" x2="97.10" y2="343.94"/><line x1="90.60" y1="297.62" x2="97.10" y2="297.62"/></g>
<g stroke="#b0b0b0" stroke-width="1.6" clip-path="url(#cp11)"><line x1="382.58" y1="282.10" x2="382.58" y2="490.30"/><line x1="460.40" y1="282.10" x2="460.40" y2="490.30"/><line x1="538.22" y1="282.10" x2="538.22" y2="490.30"/><line x1="353.40" y1="482.90" x2="567.40" y2="482.90"/><line x1="353.40" y1="436.58" x2="567.40" y2="436.58"/><line x1="353.40" y1="390.26" x2="567.40" y2="390.26"/><line x1="353.40" y1="343.94" x2="567.40" y2="343.94"/><line x1="353.40" y1="297.62" x2="567.40" y2="297.62"/></g>
<g fill="none" stroke-linejoin="round" clip-path="url(#cp11)">
<path d="M363.13,482.03L363.91,484.37L364.68,486.83L365.46,485.95L366.24,482.64L367.02,481.38L367.80,482.04L368.57,482.84L369.35,484.22L370.13,484.70L370.91,483.94L371.69,484.46L372.47,485.04L373.24,482.99L374.02,482.50L374.80,485.31L375.58,485.98L376.36,484.61L377.13,485.77L377.91,486.47L378.69,484.02L379.47,483.21L380.25,482.74L381.03,481.11L381.80,482.37L382.58,484.01L383.36,484.09L384.14,484.65L384.92,484.17L385.69,483.03L386.47,483.22L387.25,482.18L388.03,479.82L388.81,479.28L389.59,479.67L390.36,479.69L391.14,478.89L391.92,478.12L392.70,477.58L393.48,477.18L394.25,478.15L395.03,478.65L395.81,477.72L396.59,475.14L397.37,471.11L398.15,468.52L398.92,467.37L399.70,464.70L400.48,460.81L401.26,456.56L402.04,449.96L402.81,441.01L403.59,428.77L404.37,408.43L405.15,380.11L405.93,362.22L406.71,415.96L407.48,446.74L408.26,459.08L409.04,466.65L409.82,470.06L410.60,472.86L411.37,476.98L412.15,478.57L412.93,477.02L413.71,477.26L414.49,480.27L415.27,480.79L416.04,479.62L416.82,478.99L417.60,479.24L418.38,480.88L419.16,482.35L419.93,481.99L420.71,480.88L421.49,483.26L422.27,485.57L423.05,484.05L423.83,481.65L424.60,480.60L425.38,481.91L426.16,482.54L426.94,481.03L427.72,480.47L428.49,481.16L429.27,481.09L430.05,481.44L430.83,482.29L431.61,481.80L432.39,479.58L433.16,468.44L433.94,479.26L434.72,481.76L435.50,480.84L436.28,480.30L437.05,482.07L437.83,483.10L438.61,482.32L439.39,480.85L440.17,480.20L440.95,479.94L441.72,480.05L442.50,480.71L443.28,481.41L444.06,481.29L444.84,479.46L445.61,478.57L446.39,478.01L447.17,475.95L447.95,476.73L448.73,478.37L449.51,476.59L450.28,473.52L451.06,468.56L451.84,464.73L452.62,464.16L453.40,461.82L454.17,457.02L454.95,450.77L455.73,442.75L456.51,434.33L457.29,423.38L458.07,406.42L458.84,381.43L459.62,344.41L460.40,320.84L461.18,391.01L461.96,433.47L462.73,452.88L463.51,462.13L464.29,466.64L465.07,470.19L465.85,473.93L466.63,475.05L467.40,475.24L468.18,476.33L468.96,476.67L469.74,476.75L470.52,477.68L471.29,478.48L472.07,478.25L472.85,479.48L473.63,481.53L474.41,481.08L475.19,481.24L475.96,482.77L476.74,484.29L477.52,485.02L478.30,484.07L479.08,482.93L479.85,482.95L480.63,482.92L481.41,481.37L482.19,481.36L482.97,482.96L483.75,483.86L484.52,484.36L485.30,484.28L486.08,482.91L486.86,479.39L487.64,467.98L488.41,479.97L489.19,483.23L489.97,483.18L490.75,481.43L491.53,479.53L492.31,480.54L493.08,483.13L493.86,485.05L494.64,485.64L495.42,484.25L496.20,482.25L496.97,481.89L497.75,481.97L498.53,481.58L499.31,480.02L500.09,478.87L500.87,479.91L501.64,480.47L502.42,479.15L503.20,477.75L503.98,478.11L504.76,478.36L505.53,477.32L506.31,474.64L507.09,469.02L507.87,464.90L508.65,463.53L509.43,459.77L510.20,455.27L510.98,450.45L511.76,441.78L512.54,429.44L513.32,409.85L514.09,383.20L514.87,366.38L515.65,417.46L516.43,446.51L517.21,460.79L517.99,467.19L518.76,470.55L519.54,473.56L520.32,475.38L521.10,477.87L521.88,479.87L522.65,477.59L523.43,475.92L524.21,477.47L524.99,480.06L525.77,482.50L526.55,483.11L527.32,483.27L528.10,482.69L528.88,481.94L529.66,482.88L530.44,484.34L531.21,485.14L531.99,484.07L532.77,483.30L533.55,484.20L534.33,483.22L535.11,482.03L535.88,484.15L536.66,485.73L537.44,484.20L538.22,481.17L539.00,479.99L539.77,482.24L540.55,484.43L541.33,483.85L542.11,483.11L542.89,483.20L543.67,481.61L544.44,481.07L545.22,482.39L546.00,482.47L546.78,481.55L547.56,482.10L548.33,483.43L549.11,483.27L549.89,484.05L550.67,484.95L551.45,484.35L552.23,484.69L553.00,486.19L553.78,487.01L554.56,485.17L555.34,481.62L556.12,480.37L556.89,481.33L557.67,482.51" stroke="#008000" stroke-width="3.2"/>
<path d="M363.13,484.29L363.91,484.20L364.68,484.44L365.46,484.41L366.24,484.19L367.02,484.25L367.80,484.37L368.57,484.08L369.35,484.18L370.13,483.92L370.91,484.08L371.69,484.11L372.47,484.00L373.24,484.02L374.02,484.08L374.80,483.99L375.58,483.74L376.36,483.71L377.13,483.54L377.91,484.04L378.69,483.74L379.47,483.68L380.25,490.44L381.03,479.20L381.80,483.45L382.58,483.11L383.36,483.11L384.14,483.23L384.92,482.62L385.69,482.52L386.47,482.63L387.25,482.15L388.03,482.20L388.81,481.58L389.59,481.51L390.36,481.24L391.14,480.73L391.92,480.29L392.70,479.51L393.48,478.79L394.25,477.96L395.03,477.05L395.81,476.39L396.59,474.20L397.37,472.75L398.15,470.13L398.92,467.24L399.70,464.04L400.48,460.01L401.26,454.78L402.04,448.16L402.81,439.44L403.59,426.90L404.37,407.71L405.15,379.91L405.93,362.22L406.71,414.92L407.48,445.64L408.26,459.67L409.04,467.13L409.82,471.39L410.60,474.14L411.37,476.17L412.15,477.72L412.93,478.76L413.71,479.09L414.49,480.06L415.27,480.55L416.04,480.63L416.82,481.02L417.60,481.39L418.38,481.79L419.16,481.47L419.93,481.99L420.71,482.10L421.49,482.35L422.27,482.67L423.05,482.74L423.83,482.48L424.60,482.54L425.38,482.69L426.16,482.89L426.94,482.95L427.72,482.74L428.49,482.93L429.27,482.44L430.05,482.29L430.83,481.77L431.61,481.57L432.39,479.44L433.16,468.44L433.94,479.55L434.72,481.63L435.50,482.01L436.28,481.91L437.05,481.96L437.83,481.88L438.61,481.84L439.39,481.60L440.17,481.28L440.95,481.52L441.72,481.16L442.50,481.03L443.28,480.12L444.06,479.77L444.84,479.39L445.61,479.19L446.39,478.27L447.17,477.55L447.95,476.55L448.73,475.47L449.51,473.98L450.28,472.52L451.06,470.30L451.84,467.99L452.62,465.13L453.40,461.46L454.17,457.05L454.95,451.28L455.73,444.55L456.51,435.61L457.29,423.98L458.07,407.43L458.84,381.25L459.62,344.67L460.40,320.84L461.18,391.38L461.96,432.66L462.73,451.37L463.51,461.22L464.29,467.14L465.07,470.98L465.85,473.21L466.63,475.24L467.40,476.51L468.18,477.72L468.96,478.42L469.74,479.28L470.52,479.69L471.29,480.03L472.07,480.50L472.85,480.91L473.63,481.30L474.41,481.30L475.19,481.46L475.96,481.74L476.74,481.99L477.52,481.87L478.30,481.62L479.08,482.23L479.85,482.19L480.63,482.24L481.41,482.84L482.19,482.37L482.97,482.54L483.75,482.13L484.52,482.36L485.30,482.27L486.08,481.62L486.86,479.20L487.64,467.98L488.41,474.56L489.19,481.78L489.97,483.94L490.75,482.06L491.53,481.87L492.31,482.08L493.08,482.11L493.86,481.85L494.64,481.77L495.42,481.51L496.20,481.45L496.97,481.47L497.75,481.16L498.53,480.89L499.31,480.54L500.09,480.16L500.87,479.87L501.64,479.56L502.42,478.62L503.20,478.07L503.98,476.72L504.76,475.56L505.53,474.45L506.31,472.27L507.09,470.12L507.87,467.65L508.65,464.14L509.43,460.12L510.20,455.70L510.98,448.93L511.76,440.57L512.54,428.50L513.32,409.87L514.09,383.56L514.87,366.38L515.65,417.33L516.43,446.93L517.21,460.40L517.99,467.82L518.76,471.98L519.54,474.41L520.32,476.40L521.10,477.66L521.88,479.09L522.65,479.65L523.43,480.22L524.21,480.61L524.99,481.12L525.77,481.18L526.55,481.65L527.32,481.87L528.10,482.08L528.88,482.13L529.66,482.51L530.44,482.35L531.21,482.60L531.99,482.77L532.77,482.89L533.55,482.89L534.33,482.88L535.11,482.96L535.88,483.14L536.66,483.10L537.44,483.30L538.22,483.14L539.00,483.43L539.77,483.85L540.55,478.63L541.33,488.16L542.11,483.80L542.89,483.66L543.67,483.82L544.44,483.29L545.22,483.62L546.00,484.03L546.78,483.66L547.56,483.86L548.33,483.45L549.11,484.02L549.89,484.27L550.67,483.86L551.45,483.95L552.23,483.98L553.00,484.32L553.78,483.86L554.56,483.64L555.34,484.32L556.12,483.76L556.89,484.10L557.67,483.57" stroke="#0000ff" stroke-width="3.2" stroke-dasharray="10.6,4.2"/>
</g>
<rect x="353.4" y="282.1" width="214.0" height="208.2" fill="none" stroke="#000" stroke-width="1.6"/>
<g stroke="#000" stroke-width="1.6"><line x1="382.58" y1="490.30" x2="382.58" y2="496.80"/><line x1="460.40" y1="490.30" x2="460.40" y2="496.80"/><line x1="538.22" y1="490.30" x2="538.22" y2="496.80"/><line x1="346.90" y1="482.90" x2="353.40" y2="482.90"/><line x1="346.90" y1="436.58" x2="353.40" y2="436.58"/><line x1="346.90" y1="390.26" x2="353.40" y2="390.26"/><line x1="346.90" y1="343.94" x2="353.40" y2="343.94"/><line x1="346.90" y1="297.62" x2="353.40" y2="297.62"/></g>
<g stroke="#b0b0b0" stroke-width="1.6" clip-path="url(#cp12)"><line x1="639.48" y1="282.10" x2="639.48" y2="490.30"/><line x1="717.30" y1="282.10" x2="717.30" y2="490.30"/><line x1="795.12" y1="282.10" x2="795.12" y2="490.30"/><line x1="610.30" y1="482.90" x2="824.30" y2="482.90"/><line x1="610.30" y1="436.58" x2="824.30" y2="436.58"/><line x1="610.30" y1="390.26" x2="824.30" y2="390.26"/><line x1="610.30" y1="343.94" x2="824.30" y2="343.94"/><line x1="610.30" y1="297.62" x2="824.30" y2="297.62"/></g>
<g fill="none" stroke-linejoin="round" clip-path="url(#cp12)">
<path d="M620.03,482.14L620.81,481.25L621.58,481.77L622.36,482.59L623.14,482.33L623.92,483.65L624.70,483.49L625.47,480.93L626.25,481.45L627.03,482.38L627.81,482.24L628.59,483.46L629.37,483.40L630.14,481.72L630.92,480.20L631.70,478.02L632.48,476.23L633.26,475.33L634.03,472.62L634.81,469.64L635.59,467.52L636.37,474.47L637.15,478.25L637.93,478.63L638.70,479.29L639.48,481.48L640.26,482.77L641.04,482.53L641.82,481.91L642.59,481.20L643.37,481.70L644.15,481.92L644.93,480.29L645.71,480.15L646.49,480.63L647.26,479.99L648.04,480.45L648.82,480.77L649.60,480.42L650.38,480.59L651.15,480.05L651.93,477.88L652.71,474.94L653.49,474.09L654.27,473.96L655.05,472.37L655.82,471.27L656.60,469.35L657.38,466.25L658.16,462.13L658.94,457.09L659.71,453.78L660.49,447.45L661.27,434.30L662.05,417.62L662.83,406.53L663.61,440.75L664.38,458.68L665.16,465.29L665.94,469.91L666.72,471.97L667.50,473.76L668.27,475.97L669.05,477.64L669.83,479.40L670.61,479.50L671.39,478.27L672.17,479.45L672.94,481.03L673.72,480.41L674.50,480.43L675.28,480.71L676.06,479.98L676.83,480.76L677.61,482.15L678.39,480.26L679.17,478.10L679.95,478.75L680.73,477.77L681.50,475.46L682.28,475.33L683.06,475.79L683.84,474.03L684.62,470.67L685.39,468.11L686.17,466.75L686.95,462.93L687.73,454.87L688.51,445.12L689.29,434.42L690.06,426.60L690.84,450.48L691.62,463.56L692.40,470.47L693.18,475.02L693.95,476.72L694.73,478.00L695.51,479.28L696.29,478.89L697.07,478.91L697.85,479.28L698.62,479.77L699.40,480.66L700.18,479.77L700.96,478.33L701.74,477.55L702.51,477.78L703.29,479.85L704.07,480.09L704.85,477.48L705.63,474.48L706.41,472.40L707.18,473.04L707.96,473.42L708.74,471.70L709.52,471.10L710.30,467.99L711.07,461.86L711.85,458.22L712.63,454.58L713.41,447.87L714.19,439.52L714.97,428.83L715.74,412.74L716.52,389.63L717.30,373.18L718.08,419.71L718.86,444.88L719.63,458.77L720.41,466.34L721.19,470.99L721.97,473.21L722.75,473.26L723.53,474.27L724.30,475.92L725.08,476.41L725.86,476.48L726.64,476.94L727.42,478.38L728.19,479.70L728.97,477.93L729.75,476.57L730.53,478.55L731.31,479.00L732.09,477.34L732.86,476.61L733.64,477.99L734.42,479.18L735.20,478.44L735.98,478.28L736.75,477.16L737.53,474.71L738.31,472.87L739.09,468.94L739.87,464.74L740.65,463.45L741.42,462.21L742.20,458.75L742.98,451.54L743.76,438.76L744.54,430.46L745.31,453.56L746.09,467.24L746.87,472.85L747.65,476.89L748.43,479.65L749.21,479.89L749.98,478.68L750.76,478.01L751.54,477.44L752.32,477.91L753.10,479.11L753.87,480.07L754.65,479.79L755.43,477.21L756.21,477.04L756.99,479.80L757.77,480.65L758.54,480.44L759.32,481.20L760.10,479.88L760.88,477.24L761.66,476.77L762.43,476.14L763.21,474.88L763.99,474.30L764.77,472.75L765.55,471.10L766.33,468.71L767.10,465.10L767.88,460.33L768.66,453.89L769.44,445.99L770.22,434.55L770.99,419.08L771.77,408.38L772.55,441.27L773.33,461.39L774.11,467.96L774.89,472.14L775.66,475.37L776.44,476.50L777.22,478.03L778.00,478.80L778.78,478.45L779.55,479.95L780.33,481.02L781.11,479.29L781.89,479.33L782.67,481.69L783.45,483.55L784.22,484.63L785.00,483.58L785.78,481.69L786.56,482.12L787.34,483.25L788.11,481.73L788.89,479.95L789.67,481.05L790.45,481.21L791.23,479.42L792.01,479.36L792.78,480.51L793.56,481.75L794.34,482.58L795.12,481.67L795.90,479.65L796.67,477.40L797.45,474.61L798.23,472.20L799.01,470.91L799.79,476.11L800.57,481.38L801.34,483.89L802.12,483.62L802.90,483.42L803.68,483.38L804.46,483.53L805.23,484.54L806.01,484.47L806.79,483.14L807.57,482.82L808.35,482.98L809.13,482.55L809.90,483.24L810.68,484.03L811.46,482.17L812.24,480.90L813.02,481.78L813.79,481.01L814.57,479.60" stroke="#008000" stroke-width="3.2"/>
<path d="M620.03,482.99L620.81,482.40L621.58,482.68L622.36,482.66L623.14,482.56L623.92,482.29L624.70,482.25L625.47,482.12L626.25,481.65L627.03,481.77L627.81,481.54L628.59,480.84L629.37,480.41L630.14,479.80L630.92,479.52L631.70,478.27L632.48,477.25L633.26,475.41L634.03,473.51L634.81,469.77L635.59,467.52L636.37,474.22L637.15,478.03L637.93,479.40L638.70,480.57L639.48,481.10L640.26,481.09L641.04,481.22L641.82,481.30L642.59,481.66L643.37,481.50L644.15,481.24L644.93,481.46L645.71,481.35L646.49,480.90L647.26,480.56L648.04,480.81L648.82,480.78L649.60,480.21L650.38,479.69L651.15,479.00L651.93,478.23L652.71,477.60L653.49,476.77L654.27,475.48L655.05,474.30L655.82,472.42L656.60,470.43L657.38,467.21L658.16,464.30L658.94,460.46L659.71,454.98L660.49,447.03L661.27,435.20L662.05,417.71L662.83,406.53L663.61,439.41L664.38,458.66L665.16,467.49L665.94,472.19L666.72,474.86L667.50,476.36L668.27,477.53L669.05,478.08L669.83,478.98L670.61,479.07L671.39,479.51L672.17,479.76L672.94,480.25L673.72,480.18L674.50,479.80L675.28,479.63L676.06,479.73L676.83,479.46L677.61,479.44L678.39,479.11L679.17,478.76L679.95,477.95L680.73,477.43L681.50,476.75L682.28,475.79L683.06,474.40L683.84,472.94L684.62,471.28L685.39,468.45L686.17,465.71L686.95,461.75L687.73,455.76L688.51,447.07L689.29,434.72L690.06,426.60L690.84,450.64L691.62,464.55L692.40,471.21L693.18,473.87L693.95,476.37L694.73,477.09L695.51,478.14L696.29,478.68L697.07,478.87L697.85,479.00L698.62,479.04L699.40,478.84L700.18,479.05L700.96,478.83L701.74,478.90L702.51,478.38L703.29,478.13L704.07,477.79L704.85,477.15L705.63,476.45L706.41,475.54L707.18,474.45L707.96,473.32L708.74,471.77L709.52,469.54L710.30,467.59L711.07,464.41L711.85,460.31L712.63,456.47L713.41,450.19L714.19,442.07L714.97,431.29L715.74,413.27L716.52,389.28L717.30,373.18L718.08,420.29L718.86,447.63L719.63,460.44L720.41,466.95L721.19,471.08L721.97,473.25L722.75,475.30L723.53,476.33L724.30,476.96L725.08,477.99L725.86,478.33L726.64,478.59L727.42,479.12L728.19,478.83L728.97,479.09L729.75,479.47L730.53,479.17L731.31,479.21L732.09,479.03L732.86,478.65L733.64,478.47L734.42,477.74L735.20,477.50L735.98,476.49L736.75,475.80L737.53,474.54L738.31,473.43L739.09,471.71L739.87,469.68L740.65,466.59L741.42,462.83L742.20,457.33L742.98,449.36L743.76,437.95L744.54,430.46L745.31,452.72L746.09,465.68L746.87,471.34L747.65,474.54L748.43,476.69L749.21,477.81L749.98,478.19L750.76,478.91L751.54,479.37L752.32,479.35L753.10,479.80L753.87,479.86L754.65,479.92L755.43,480.16L756.21,479.55L756.99,479.79L757.77,479.46L758.54,479.21L759.32,478.59L760.10,478.28L760.88,477.71L761.66,477.33L762.43,476.18L763.21,475.38L763.99,473.74L764.77,472.11L765.55,470.17L766.33,467.30L767.10,464.45L767.88,460.44L768.66,455.20L769.44,447.65L770.22,435.75L770.99,419.10L771.77,408.38L772.55,440.44L773.33,459.07L774.11,467.58L774.89,472.19L775.66,475.19L776.44,476.90L777.22,477.52L778.00,478.66L778.78,479.60L779.55,479.75L780.33,480.26L781.11,480.83L781.89,481.14L782.67,481.20L783.45,481.01L784.22,481.18L785.00,481.31L785.78,481.27L786.56,481.25L787.34,481.76L788.11,481.41L788.89,481.47L789.67,481.46L790.45,481.22L791.23,480.99L792.01,480.80L792.78,480.74L793.56,480.21L794.34,479.28L795.12,479.25L795.90,478.55L796.67,477.01L797.45,475.12L798.23,472.57L799.01,470.91L799.79,475.96L800.57,479.16L801.34,480.60L802.12,481.24L802.90,481.59L803.68,481.73L804.46,481.95L805.23,482.22L806.01,482.16L806.79,482.41L807.57,482.34L808.35,482.83L809.13,482.91L809.90,482.52L810.68,482.96L811.46,482.79L812.24,482.79L813.02,482.89L813.79,482.91L814.57,482.59" stroke="#0000ff" stroke-width="3.2" stroke-dasharray="10.6,4.2"/>
</g>
<rect x="610.3" y="282.1" width="214.0" height="208.2" fill="none" stroke="#000" stroke-width="1.6"/>
<g stroke="#000" stroke-width="1.6"><line x1="639.48" y1="490.30" x2="639.48" y2="496.80"/><line x1="717.30" y1="490.30" x2="717.30" y2="496.80"/><line x1="795.12" y1="490.30" x2="795.12" y2="496.80"/><line x1="603.80" y1="482.90" x2="610.30" y2="482.90"/><line x1="603.80" y1="436.58" x2="610.30" y2="436.58"/><line x1="603.80" y1="390.26" x2="610.30" y2="390.26"/><line x1="603.80" y1="343.94" x2="610.30" y2="343.94"/><line x1="603.80" y1="297.62" x2="610.30" y2="297.62"/></g>
<g stroke="#b0b0b0" stroke-width="1.6" clip-path="url(#cp20)"><line x1="126.28" y1="532.00" x2="126.28" y2="740.20"/><line x1="204.10" y1="532.00" x2="204.10" y2="740.20"/><line x1="281.92" y1="532.00" x2="281.92" y2="740.20"/><line x1="97.10" y1="732.80" x2="311.10" y2="732.80"/><line x1="97.10" y1="686.48" x2="311.10" y2="686.48"/><line x1="97.10" y1="640.16" x2="311.10" y2="640.16"/><line x1="97.10" y1="593.84" x2="311.10" y2="593.84"/><line x1="97.10" y1="547.52" x2="311.10" y2="547.52"/></g>
<g fill="none" stroke-linejoin="round" clip-path="url(#cp20)">
<path d="M106.83,733.22L107.61,730.83L108.38,732.71L109.16,733.66L109.94,732.11L110.72,732.13L111.50,734.30L112.27,734.72L113.05,733.81L113.83,733.30L114.61,733.00L115.39,733.26L116.17,733.94L116.94,734.42L117.72,734.96L118.50,735.02L119.28,734.35L120.06,734.60L120.83,734.14L121.61,732.43L122.39,733.51L123.17,734.46L123.95,733.26L124.73,733.15L125.50,732.96L126.28,732.57L127.06,732.48L127.84,732.72L128.62,733.13L129.39,731.47L130.17,731.06L130.95,733.37L131.73,732.68L132.51,731.44L133.29,732.83L134.06,731.57L134.84,728.56L135.62,727.44L136.40,726.27L137.18,726.13L137.95,726.41L138.73,724.97L139.51,722.83L140.29,720.86L141.07,719.57L141.85,717.87L142.62,714.26L143.40,709.41L144.18,705.80L144.96,702.28L145.74,694.97L146.51,684.34L147.29,670.76L148.07,649.90L148.85,618.36L149.63,597.91L150.41,656.43L151.18,689.53L151.96,704.85L152.74,712.54L153.52,716.81L154.30,718.63L155.07,721.75L155.85,725.80L156.63,729.83L157.41,732.49L158.19,731.17L158.97,728.67L159.74,728.81L160.52,730.11L161.30,729.75L162.08,730.04L162.86,732.33L163.63,734.23L164.41,733.42L165.19,731.91L165.97,731.44L166.75,732.36L167.53,733.02L168.30,731.47L169.08,730.63L169.86,730.70L170.64,730.24L171.42,730.57L172.19,732.68L172.97,734.97L173.75,734.15L174.53,731.26L175.31,730.73L176.09,732.12L176.86,732.80L177.64,732.51L178.42,732.39L179.20,732.95L179.98,731.79L180.75,729.62L181.53,730.59L182.31,733.00L183.09,733.81L183.87,732.46L184.65,730.12L185.42,729.51L186.20,730.17L186.98,730.26L187.76,730.56L188.54,729.77L189.31,727.31L190.09,725.00L190.87,724.12L191.65,725.35L192.43,724.72L193.21,722.34L193.98,722.00L194.76,721.64L195.54,718.57L196.32,713.72L197.10,709.15L197.87,704.06L198.65,697.05L199.43,689.35L200.21,680.82L200.99,669.09L201.77,651.09L202.54,622.38L203.32,583.22L204.10,558.23L204.88,634.03L205.66,679.22L206.43,701.02L207.21,710.81L207.99,714.95L208.77,717.65L209.55,720.17L210.33,722.83L211.10,723.99L211.88,724.30L212.66,726.27L213.44,728.85L214.22,729.70L214.99,730.22L215.77,730.90L216.55,729.83L217.33,729.49L218.11,729.75L218.89,729.28L219.66,730.65L220.44,732.09L221.22,732.50L222.00,732.53L222.78,731.80L223.55,730.71L224.33,729.69L225.11,730.08L225.89,731.30L226.67,733.01L227.45,734.14L228.22,733.75L229.00,732.80L229.78,731.69L230.56,730.77L231.34,729.87L232.11,729.88L232.89,730.65L233.67,731.28L234.45,731.34L235.23,730.59L236.01,730.89L236.78,731.86L237.56,730.00L238.34,728.20L239.12,730.10L239.90,731.98L240.67,732.81L241.45,732.12L242.23,729.76L243.01,729.00L243.79,728.00L244.57,725.07L245.34,724.74L246.12,726.47L246.90,725.51L247.68,723.88L248.46,723.01L249.23,721.71L250.01,719.30L250.79,715.81L251.57,713.16L252.35,709.83L253.13,704.53L253.90,698.94L254.68,692.43L255.46,682.25L256.24,667.48L257.02,647.14L257.79,618.35L258.57,598.53L259.35,657.69L260.13,692.42L260.91,707.01L261.69,715.76L262.46,722.07L263.24,723.74L264.02,724.18L264.80,726.60L265.58,728.06L266.35,728.13L267.13,730.18L267.91,732.47L268.69,732.44L269.47,730.86L270.25,729.24L271.02,729.27L271.80,731.39L272.58,733.53L273.36,734.05L274.14,733.75L274.91,734.13L275.69,734.61L276.47,733.10L277.25,731.91L278.03,732.27L278.81,732.94L279.58,734.63L280.36,735.67L281.14,733.99L281.92,731.49L282.70,731.51L283.47,732.43L284.25,732.29L285.03,732.07L285.81,731.44L286.59,732.18L287.37,733.20L288.14,733.24L288.92,734.50L289.70,735.98L290.48,735.69L291.26,734.17L292.03,733.56L292.81,734.00L293.59,733.33L294.37,732.45L295.15,733.77L295.93,734.09L296.70,731.82L297.48,731.10L298.26,733.55L299.04,736.03L299.82,735.20L300.59,733.43L301.37,732.51" stroke="#008000" stroke-width="3.2"/>
<path d="M106.83,734.39L107.61,733.99L108.38,734.22L109.16,733.84L109.94,734.08L110.72,733.86L111.50,734.15L112.27,734.26L113.05,734.18L113.83,734.06L114.61,734.11L115.39,733.67L116.17,733.61L116.94,733.77L117.72,733.98L118.50,733.76L119.28,733.82L120.06,733.38L120.83,733.53L121.61,733.44L122.39,733.53L123.17,733.76L123.95,740.40L124.73,729.10L125.50,733.04L126.28,732.98L127.06,733.02L127.84,732.80L128.62,732.28L129.39,732.57L130.17,732.35L130.95,731.99L131.73,731.81L132.51,731.45L133.29,730.91L134.06,730.27L134.84,730.44L135.62,729.54L136.40,728.85L137.18,728.08L137.95,727.14L138.73,726.03L139.51,724.40L140.29,723.00L141.07,720.91L141.85,718.41L142.62,715.34L143.40,711.65L144.18,706.80L144.96,701.20L145.74,693.77L146.51,684.00L147.29,670.17L148.07,648.65L148.85,617.83L149.63,597.91L150.41,656.86L151.18,691.18L151.96,706.66L152.74,714.88L153.52,720.19L154.30,722.70L155.07,725.15L155.85,726.71L156.63,727.64L157.41,728.70L158.19,729.51L158.97,729.54L159.74,730.59L160.52,730.77L161.30,730.90L162.08,731.51L162.86,731.54L163.63,731.63L164.41,731.41L165.19,732.16L165.97,732.11L166.75,732.07L167.53,732.26L168.30,732.56L169.08,732.32L169.86,732.41L170.64,732.38L171.42,732.27L172.19,732.31L172.97,732.42L173.75,732.43L174.53,732.68L175.31,732.47L176.09,732.37L176.86,732.44L177.64,732.29L178.42,732.39L179.20,731.86L179.98,731.65L180.75,732.00L181.53,731.72L182.31,731.68L183.09,731.22L183.87,731.16L184.65,730.98L185.42,730.76L186.20,730.37L186.98,730.19L187.76,729.44L188.54,729.18L189.31,728.33L190.09,727.69L190.87,726.66L191.65,725.85L192.43,724.44L193.21,723.34L193.98,721.29L194.76,719.31L195.54,716.63L196.32,713.46L197.10,709.39L197.87,705.12L198.65,698.73L199.43,691.61L200.21,681.59L200.99,669.53L201.77,651.32L202.54,623.75L203.32,583.68L204.10,558.23L204.88,634.18L205.66,678.35L206.43,698.87L207.21,709.28L207.99,715.41L208.77,719.63L209.55,722.20L210.33,724.43L211.10,725.85L211.88,727.07L212.66,727.83L213.44,728.26L214.22,729.13L214.99,729.64L215.77,730.20L216.55,730.57L217.33,730.44L218.11,731.17L218.89,731.35L219.66,731.38L220.44,731.60L221.22,731.30L222.00,732.23L222.78,731.82L223.55,731.85L224.33,732.27L225.11,732.24L225.89,732.10L226.67,731.92L227.45,732.43L228.22,732.58L229.00,732.12L229.78,732.02L230.56,732.36L231.34,732.70L232.11,727.36L232.89,732.27L233.67,733.83L234.45,732.13L235.23,732.12L236.01,732.05L236.78,731.58L237.56,731.47L238.34,731.98L239.12,731.58L239.90,730.87L240.67,731.03L241.45,730.94L242.23,730.35L243.01,729.98L243.79,729.52L244.57,729.05L245.34,728.37L246.12,727.62L246.90,726.55L247.68,725.65L248.46,724.20L249.23,722.54L250.01,720.27L250.79,718.00L251.57,715.08L252.35,711.26L253.13,706.70L253.90,700.84L254.68,693.62L255.46,683.65L256.24,669.84L257.02,648.76L257.79,618.26L258.57,598.53L259.35,657.03L260.13,691.05L260.91,706.95L261.69,715.25L262.46,719.72L263.24,722.78L264.02,724.93L264.80,726.86L265.58,727.59L266.35,728.77L267.13,729.30L267.91,729.86L268.69,730.55L269.47,730.90L270.25,731.50L271.02,731.56L271.80,731.96L272.58,731.76L273.36,732.01L274.14,732.01L274.91,732.25L275.69,732.56L276.47,732.50L277.25,732.73L278.03,732.64L278.81,732.78L279.58,733.10L280.36,732.99L281.14,733.04L281.92,733.17L282.70,733.00L283.47,732.90L284.25,728.70L285.03,738.01L285.81,733.77L286.59,733.41L287.37,733.51L288.14,733.86L288.92,733.44L289.70,733.41L290.48,733.69L291.26,733.65L292.03,733.78L292.81,733.49L293.59,733.93L294.37,733.73L295.15,733.33L295.93,733.71L296.70,733.65L297.48,733.78L298.26,733.99L299.04,733.79L299.82,733.73L300.59,734.01L301.37,733.77" stroke="#0000ff" stroke-width="3.2" stroke-dasharray="10.6,4.2"/>
</g>
<rect x="97.1" y="532.0" width="214.0" height="208.2" fill="none" stroke="#000" stroke-width="1.6"/>
<g stroke="#000" stroke-width="1.6"><line x1="126.28" y1="740.20" x2="126.28" y2="746.70"/><line x1="204.10" y1="740.20" x2="204.10" y2="746.70"/><line x1="281.92" y1="740.20" x2="281.92" y2="746.70"/><line x1="90.60" y1="732.80" x2="97.10" y2="732.80"/><line x1="90.60" y1="686.48" x2="97.10" y2="686.48"/><line x1="90.60" y1="640.16" x2="97.10" y2="640.16"/><line x1="90.60" y1="593.84" x2="97.10" y2="593.84"/><line x1="90.60" y1="547.52" x2="97.10" y2="547.52"/></g>
<g stroke="#b0b0b0" stroke-width="1.6" clip-path="url(#cp21)"><line x1="382.58" y1="532.00" x2="382.58" y2="740.20"/><line x1="460.40" y1="532.00" x2="460.40" y2="740.20"/><line x1="538.22" y1="532.00" x2="538.22" y2="740.20"/><line x1="353.40" y1="732.80" x2="567.40" y2="732.80"/><line x1="353.40" y1="686.48" x2="567.40" y2="686.48"/><line x1="353.40" y1="640.16" x2="567.40" y2="640.16"/><line x1="353.40" y1="593.84" x2="567.40" y2="593.84"/><line x1="353.40" y1="547.52" x2="567.40" y2="547.52"/></g>
<g fill="none" stroke-linejoin="round" clip-path="url(#cp21)">
<path d="M363.13,733.08L363.91,735.99L364.68,737.21L365.46,735.99L366.24,733.42L367.02,732.29L367.80,733.38L368.57,735.37L369.35,735.89L370.13,734.54L370.91,734.31L371.69,734.81L372.47,733.86L373.24,732.88L374.02,733.80L374.80,736.17L375.58,737.06L376.36,735.18L377.13,733.77L377.91,734.07L378.69,734.62L379.47,734.12L380.25,732.98L381.03,732.87L381.80,733.68L382.58,734.57L383.36,734.22L384.14,733.64L384.92,734.57L385.69,734.85L386.47,732.78L387.25,730.78L388.03,730.06L388.81,729.81L389.59,730.73L390.36,732.16L391.14,732.63L391.92,730.56L392.70,727.70L393.48,726.84L394.25,726.15L395.03,725.31L395.81,725.03L396.59,723.95L397.37,721.46L398.15,718.44L398.92,715.52L399.70,712.34L400.48,708.99L401.26,704.63L402.04,698.13L402.81,688.38L403.59,675.35L404.37,656.87L405.15,626.37L405.93,607.95L406.71,662.38L407.48,695.75L408.26,708.67L409.04,714.97L409.82,719.99L410.60,723.15L411.37,725.57L412.15,725.76L412.93,724.73L413.71,727.48L414.49,730.66L415.27,730.95L416.04,730.28L416.82,729.84L417.60,730.05L418.38,731.76L419.16,733.05L419.93,732.31L420.71,732.26L421.49,733.58L422.27,734.55L423.05,734.35L423.83,733.65L424.60,733.82L425.38,734.24L426.16,733.28L426.94,733.05L427.72,734.20L428.49,734.48L429.27,733.37L430.05,733.37L430.83,734.95L431.61,734.73L432.39,730.93L433.16,721.28L433.94,729.70L434.72,731.77L435.50,732.67L436.28,731.79L437.05,729.62L437.83,728.97L438.61,730.68L439.39,733.20L440.17,732.91L440.95,730.70L441.72,730.70L442.50,730.89L443.28,730.82L444.06,730.74L444.84,729.24L445.61,728.09L446.39,728.01L447.17,727.61L447.95,726.67L448.73,725.30L449.51,722.58L450.28,719.87L451.06,718.28L451.84,716.40L452.62,715.54L453.40,713.72L454.17,707.67L454.95,701.12L455.73,694.65L456.51,686.72L457.29,676.02L458.07,658.20L458.84,630.10L459.62,593.94L460.40,570.89L461.18,641.63L461.96,681.62L462.73,700.07L463.51,709.05L464.29,716.13L465.07,721.11L465.85,721.58L466.63,723.34L467.40,726.25L468.18,726.70L468.96,726.88L469.74,727.65L470.52,730.09L471.29,731.85L472.07,730.19L472.85,728.06L473.63,726.89L474.41,727.49L475.19,729.70L475.96,731.77L476.74,732.68L477.52,733.03L478.30,733.32L479.08,734.42L479.85,735.26L480.63,733.55L481.41,730.66L482.19,728.80L482.97,730.17L483.75,732.11L484.52,732.62L485.30,733.64L486.08,734.34L486.86,730.77L487.64,722.05L488.41,729.70L489.19,732.80L489.97,732.27L490.75,730.76L491.53,730.77L492.31,731.88L493.08,733.24L493.86,733.18L494.64,731.56L495.42,731.03L496.20,732.64L496.97,732.47L497.75,730.93L498.53,730.57L499.31,729.57L500.09,728.58L500.87,727.32L501.64,725.97L502.42,725.98L503.20,726.71L503.98,727.57L504.76,726.32L505.53,722.61L506.31,719.06L507.09,715.99L507.87,713.51L508.65,712.16L509.43,708.96L510.20,703.59L510.98,697.88L511.76,690.56L512.54,678.31L513.32,658.86L514.09,631.97L514.87,614.43L515.65,666.41L516.43,696.25L517.21,709.98L517.99,717.74L518.76,723.15L519.54,725.03L520.32,725.49L521.10,727.75L521.88,729.24L522.65,731.25L523.43,732.82L524.21,731.21L524.99,730.82L525.77,731.93L526.55,731.94L527.32,732.95L528.10,733.62L528.88,733.13L529.66,731.73L530.44,731.03L531.21,732.60L531.99,732.12L532.77,732.33L533.55,735.68L534.33,735.87L535.11,733.67L535.88,733.10L536.66,732.30L537.44,731.83L538.22,733.66L539.00,736.44L539.77,737.14L540.55,735.34L541.33,734.24L542.11,733.51L542.89,733.87L543.67,734.03L544.44,731.69L545.22,730.76L546.00,732.67L546.78,734.81L547.56,735.20L548.33,734.84L549.11,735.22L549.89,735.07L550.67,733.77L551.45,733.02L552.23,733.52L553.00,733.43L553.78,732.47L554.56,734.49L555.34,737.41L556.12,736.31L556.89,733.76L557.67,732.96" stroke="#008000" stroke-width="3.2"/>
<path d="M363.13,734.21L363.91,734.27L364.68,734.01L365.46,734.20L366.24,734.21L367.02,734.22L367.80,733.96L368.57,734.14L369.35,734.33L370.13,733.88L370.91,734.10L371.69,733.87L372.47,733.84L373.24,733.65L374.02,733.64L374.80,733.90L375.58,733.78L376.36,733.95L377.13,733.34L377.91,733.52L378.69,733.28L379.47,733.53L380.25,740.72L381.03,728.70L381.80,733.20L382.58,733.08L383.36,732.98L384.14,732.74L384.92,732.61L385.69,732.84L386.47,732.15L387.25,732.23L388.03,731.97L388.81,731.28L389.59,731.09L390.36,730.94L391.14,730.77L391.92,729.87L392.70,729.17L393.48,728.55L394.25,727.88L395.03,726.74L395.81,725.55L396.59,723.73L397.37,721.73L398.15,719.40L398.92,716.90L399.70,713.26L400.48,708.90L401.26,703.73L402.04,696.82L402.81,687.30L403.59,674.69L404.37,654.66L405.15,626.36L405.93,607.95L406.71,662.65L407.48,694.18L408.26,708.52L409.04,716.02L409.82,720.72L410.60,723.72L411.37,725.83L412.15,727.37L412.93,728.35L413.71,729.02L414.49,729.91L415.27,730.10L416.04,730.87L416.82,731.35L417.60,731.49L418.38,731.85L419.16,731.99L419.93,731.69L420.71,732.08L421.49,732.12L422.27,732.05L423.05,732.11L423.83,732.51L424.60,732.22L425.38,732.44L426.16,732.54L426.94,732.48L427.72,732.83L428.49,732.70L429.27,732.53L430.05,732.32L430.83,732.33L431.61,731.83L432.39,729.88L433.16,721.28L433.94,729.80L434.72,731.37L435.50,732.03L436.28,732.08L437.05,731.93L437.83,731.95L438.61,731.87L439.39,731.32L440.17,731.48L440.95,731.40L441.72,730.87L442.50,730.32L443.28,730.30L444.06,729.68L444.84,729.50L445.61,728.95L446.39,728.32L447.17,727.43L447.95,726.12L448.73,725.55L449.51,723.67L450.28,722.53L451.06,720.40L451.84,717.79L452.62,714.87L453.40,711.30L454.17,707.19L454.95,701.28L455.73,694.62L456.51,685.13L457.29,673.90L458.07,657.08L458.84,631.63L459.62,594.66L460.40,570.89L461.18,641.32L461.96,682.34L462.73,701.02L463.51,711.17L464.29,716.99L465.07,720.43L465.85,723.43L466.63,725.43L467.40,726.40L468.18,727.75L468.96,728.45L469.74,728.87L470.52,729.73L471.29,729.87L472.07,730.53L472.85,730.45L473.63,730.75L474.41,731.31L475.19,731.46L475.96,731.75L476.74,731.70L477.52,731.66L478.30,732.25L479.08,731.90L479.85,732.40L480.63,732.38L481.41,732.60L482.19,731.92L482.97,732.32L483.75,732.28L484.52,732.40L485.30,731.95L486.08,732.15L486.86,730.07L487.64,722.05L488.41,725.44L489.19,731.70L489.97,733.79L490.75,732.31L491.53,732.16L492.31,731.95L493.08,732.02L493.86,731.89L494.64,731.91L495.42,731.64L496.20,731.51L496.97,731.05L497.75,730.94L498.53,730.83L499.31,730.90L500.09,729.91L500.87,729.42L501.64,729.16L502.42,728.68L503.20,727.71L503.98,726.34L504.76,725.52L505.53,723.97L506.31,722.08L507.09,719.73L507.87,717.31L508.65,714.06L509.43,710.09L510.20,704.63L510.98,698.27L511.76,689.89L512.54,677.87L513.32,658.92L514.09,631.78L514.87,614.43L515.65,666.05L516.43,696.03L517.21,709.85L517.99,717.06L518.76,721.40L519.54,724.42L520.32,726.22L521.10,727.09L521.88,728.77L522.65,729.42L523.43,729.76L524.21,730.48L524.99,731.01L525.77,731.45L526.55,731.39L527.32,731.55L528.10,731.69L528.88,732.12L529.66,732.10L530.44,732.62L531.21,732.53L531.99,732.80L532.77,732.74L533.55,732.72L534.33,732.74L535.11,733.20L535.88,732.85L536.66,733.24L537.44,733.40L538.22,733.29L539.00,733.58L539.77,733.35L540.55,728.71L541.33,738.10L542.11,733.37L542.89,733.57L543.67,733.54L544.44,733.84L545.22,733.59L546.00,733.78L546.78,733.73L547.56,733.69L548.33,733.66L549.11,734.02L549.89,734.03L550.67,733.81L551.45,733.69L552.23,733.73L553.00,733.65L553.78,733.59L554.56,733.75L555.34,733.86L556.12,734.06L556.89,734.06L557.67,733.99" stroke="#0000ff" stroke-width="3.2" stroke-dasharray="10.6,4.2"/>
</g>
<rect x="353.4" y="532.0" width="214.0" height="208.2" fill="none" stroke="#000" stroke-width="1.6"/>
<g stroke="#000" stroke-width="1.6"><line x1="382.58" y1="740.20" x2="382.58" y2="746.70"/><line x1="460.40" y1="740.20" x2="460.40" y2="746.70"/><line x1="538.22" y1="740.20" x2="538.22" y2="746.70"/><line x1="346.90" y1="732.80" x2="353.40" y2="732.80"/><line x1="346.90" y1="686.48" x2="353.40" y2="686.48"/><line x1="346.90" y1="640.16" x2="353.40" y2="640.16"/><line x1="346.90" y1="593.84" x2="353.40" y2="593.84"/><line x1="346.90" y1="547.52" x2="353.40" y2="547.52"/></g>
<g stroke="#b0b0b0" stroke-width="1.6" clip-path="url(#cp22)"><line x1="639.48" y1="532.00" x2="639.48" y2="740.20"/><line x1="717.30" y1="532.00" x2="717.30" y2="740.20"/><line x1="795.12" y1="532.00" x2="795.12" y2="740.20"/><line x1="610.30" y1="732.80" x2="824.30" y2="732.80"/><line x1="610.30" y1="686.48" x2="824.30" y2="686.48"/><line x1="610.30" y1="640.16" x2="824.30" y2="640.16"/><line x1="610.30" y1="593.84" x2="824.30" y2="593.84"/><line x1="610.30" y1="547.52" x2="824.30" y2="547.52"/></g>
<g fill="none" stroke-linejoin="round" clip-path="url(#cp22)">
<path d="M620.03,732.37L620.81,732.69L621.58,732.48L622.36,731.81L623.14,731.70L623.92,731.74L624.70,732.06L625.47,733.22L626.25,733.23L627.03,731.53L627.81,730.84L628.59,731.45L629.37,730.08L630.14,728.32L630.92,729.45L631.70,729.60L632.48,728.58L633.26,727.86L634.03,724.10L634.81,720.55L635.59,719.73L636.37,724.63L637.15,727.34L637.93,728.87L638.70,729.54L639.48,730.92L640.26,731.82L641.04,730.98L641.82,730.10L642.59,730.10L643.37,731.60L644.15,732.62L644.93,729.58L645.71,726.74L646.49,728.06L647.26,730.73L648.04,731.41L648.82,730.81L649.60,730.23L650.38,729.21L651.15,728.23L651.93,726.28L652.71,726.11L653.49,727.54L654.27,726.16L655.05,724.88L655.82,724.02L656.60,721.00L657.38,716.50L658.16,712.79L658.94,709.11L659.71,701.05L660.49,690.76L661.27,678.96L662.05,662.28L662.83,650.72L663.61,686.59L664.38,706.52L665.16,714.91L665.94,718.43L666.72,720.03L667.50,723.16L668.27,725.18L669.05,726.61L669.83,729.91L670.61,731.40L671.39,730.85L672.17,730.15L672.94,729.46L673.72,728.72L674.50,727.01L675.28,726.47L676.06,728.10L676.83,729.19L677.61,728.36L678.39,728.37L679.17,729.29L679.95,728.04L680.73,726.48L681.50,725.32L682.28,723.30L683.06,723.01L683.84,723.71L684.62,722.64L685.39,720.20L686.17,717.16L686.95,713.28L687.73,707.04L688.51,698.16L689.29,687.64L690.06,680.67L690.84,703.09L691.62,714.45L692.40,719.77L693.18,722.68L693.95,724.50L694.73,725.17L695.51,725.24L696.29,726.15L697.07,727.79L697.85,729.36L698.62,729.00L699.40,728.84L700.18,729.20L700.96,728.60L701.74,727.09L702.51,727.11L703.29,728.98L704.07,728.76L704.85,726.78L705.63,725.16L706.41,724.47L707.18,723.72L707.96,722.16L708.74,719.45L709.52,717.11L710.30,715.70L711.07,713.64L711.85,710.07L712.63,703.51L713.41,696.23L714.19,688.01L714.97,676.55L715.74,660.47L716.52,632.40L717.30,613.35L718.08,665.37L718.86,694.96L719.63,708.50L720.41,715.29L721.19,719.30L721.97,723.45L722.75,726.95L723.53,726.69L724.30,726.29L725.08,729.04L725.86,728.66L726.64,726.39L727.42,727.66L728.19,729.53L728.97,728.95L729.75,727.28L730.53,727.63L731.31,728.90L732.09,728.35L732.86,727.27L733.64,726.10L734.42,725.92L735.20,728.01L735.98,728.65L736.75,725.50L737.53,722.41L738.31,721.94L739.09,720.30L739.87,718.09L740.65,717.26L741.42,714.54L742.20,710.01L742.98,702.80L743.76,691.66L744.54,685.30L745.31,705.63L746.09,719.23L746.87,724.36L747.65,725.87L748.43,726.86L749.21,728.30L749.98,729.81L750.76,729.47L751.54,728.41L752.32,728.75L753.10,728.69L753.87,728.91L754.65,730.74L755.43,731.12L756.21,729.17L756.99,727.95L757.77,729.02L758.54,731.59L759.32,732.85L760.10,731.97L760.88,728.98L761.66,725.44L762.43,724.29L763.21,724.04L763.99,722.39L764.77,720.41L765.55,718.71L766.33,715.96L767.10,713.84L767.88,711.36L768.66,703.76L769.44,693.39L770.22,681.60L770.99,663.98L771.77,651.95L772.55,686.94L773.33,706.18L774.11,716.65L774.89,724.56L775.66,728.90L776.44,729.81L777.22,731.16L778.00,731.17L778.78,728.68L779.55,729.32L780.33,731.26L781.11,730.08L781.89,729.89L782.67,730.92L783.45,731.43L784.22,733.23L785.00,734.38L785.78,734.29L786.56,732.90L787.34,731.68L788.11,733.03L788.89,734.00L789.67,732.91L790.45,731.65L791.23,730.76L792.01,730.41L792.78,731.69L793.56,732.55L794.34,731.24L795.12,730.19L795.90,729.61L796.67,726.81L797.45,724.11L798.23,723.65L799.01,722.36L799.79,726.30L800.57,729.87L801.34,732.66L802.12,732.83L802.90,731.51L803.68,731.13L804.46,731.92L805.23,731.49L806.01,730.25L806.79,731.44L807.57,733.64L808.35,733.32L809.13,732.03L809.90,731.84L810.68,732.89L811.46,733.89L812.24,734.74L813.02,735.18L813.79,734.24L814.57,733.27" stroke="#008000" stroke-width="3.2"/>
<path d="M620.03,732.99L620.81,732.82L621.58,732.86L622.36,732.80L623.14,732.39L623.92,732.50L624.70,732.21L625.47,732.35L626.25,731.95L627.03,732.07L627.81,731.59L628.59,731.29L629.37,730.71L630.14,730.32L630.92,729.81L631.70,728.89L632.48,728.05L633.26,726.62L634.03,724.50L634.81,721.67L635.59,719.73L636.37,725.27L637.15,728.58L637.93,729.87L638.70,730.46L639.48,730.91L640.26,731.36L641.04,731.64L641.82,731.46L642.59,731.47L643.37,731.20L644.15,731.39L644.93,731.25L645.71,730.93L646.49,730.97L647.26,730.68L648.04,730.06L648.82,729.78L649.60,729.54L650.38,729.14L651.15,728.80L651.93,727.83L652.71,727.10L653.49,726.07L654.27,724.98L655.05,723.39L655.82,721.59L656.60,719.23L657.38,716.23L658.16,712.93L658.94,708.85L659.71,702.80L660.49,694.47L661.27,681.37L662.05,662.64L662.83,650.72L663.61,686.20L664.38,706.65L665.16,716.27L665.94,721.35L666.72,724.24L667.50,725.99L668.27,726.81L669.05,728.19L669.83,728.33L670.61,728.76L671.39,729.37L672.17,729.57L672.94,729.83L673.72,729.81L674.50,729.71L675.28,729.80L676.06,729.53L676.83,729.35L677.61,729.30L678.39,729.02L679.17,728.73L679.95,728.19L680.73,727.88L681.50,726.87L682.28,726.01L683.06,725.08L683.84,723.14L684.62,721.98L685.39,719.79L686.17,716.80L686.95,713.50L687.73,708.02L688.51,700.05L689.29,688.24L690.06,680.67L690.84,702.76L691.62,715.39L692.40,721.30L693.18,724.28L693.95,726.15L694.73,727.43L695.51,727.84L696.29,728.59L697.07,728.90L697.85,728.67L698.62,728.87L699.40,728.96L700.18,728.78L700.96,728.59L701.74,728.77L702.51,728.22L703.29,728.01L704.07,727.26L704.85,726.78L705.63,725.63L706.41,724.84L707.18,723.93L707.96,722.37L708.74,720.86L709.52,718.49L710.30,715.77L711.07,712.57L711.85,708.95L712.63,703.61L713.41,697.02L714.19,688.49L714.97,676.11L715.74,657.79L716.52,630.65L717.30,613.35L718.08,664.80L718.86,694.59L719.63,708.26L720.41,715.71L721.19,719.82L721.97,722.79L722.75,724.68L723.53,725.62L724.30,726.69L725.08,727.69L725.86,728.08L726.64,728.33L727.42,728.34L728.19,728.65L728.97,728.83L729.75,729.38L730.53,729.08L731.31,728.92L732.09,728.82L732.86,728.62L733.64,728.46L734.42,727.73L735.20,727.30L735.98,726.97L736.75,726.36L737.53,724.82L738.31,724.07L739.09,722.21L739.87,720.14L740.65,718.17L741.42,714.62L742.20,709.97L742.98,702.49L743.76,692.06L744.54,685.30L745.31,705.37L746.09,717.08L746.87,722.22L747.65,725.28L748.43,726.94L749.21,727.48L749.98,728.73L750.76,729.12L751.54,729.33L752.32,729.74L753.10,730.06L753.87,729.52L754.65,729.85L755.43,729.75L756.21,729.59L756.99,729.53L757.77,729.30L758.54,728.76L759.32,727.95L760.10,727.76L760.88,727.14L761.66,726.80L762.43,725.58L763.21,724.64L763.99,722.85L764.77,721.28L765.55,719.05L766.33,716.36L767.10,713.06L767.88,708.88L768.66,702.71L769.44,694.81L770.22,682.08L770.99,663.70L771.77,651.95L772.55,686.82L773.33,706.90L774.11,716.36L774.89,721.28L775.66,724.22L776.44,725.94L777.22,727.72L778.00,728.23L778.78,729.15L779.55,729.73L780.33,729.91L781.11,730.31L781.89,730.39L782.67,730.50L783.45,731.31L784.22,731.02L785.00,730.75L785.78,731.03L786.56,730.98L787.34,731.26L788.11,731.55L788.89,731.47L789.67,731.07L790.45,730.94L791.23,731.13L792.01,730.87L792.78,730.54L793.56,730.61L794.34,729.96L795.12,729.09L795.90,728.28L796.67,727.69L797.45,725.76L798.23,723.86L799.01,722.36L799.79,726.96L800.57,729.21L801.34,730.66L802.12,730.80L802.90,731.56L803.68,731.84L804.46,732.39L805.23,731.91L806.01,732.36L806.79,732.40L807.57,732.85L808.35,732.33L809.13,732.36L809.90,732.70L810.68,732.61L811.46,732.59L812.24,732.51L813.02,732.69L813.79,732.42L814.57,732.80" stroke="#0000ff" stroke-width="3.2" stroke-dasharray="10.6,4.2"/>
</g>
<rect x="610.3" y="532.0" width="214.0" height="208.2" fill="none" stroke="#000" stroke-width="1.6"/>
<g stroke="#000" stroke-width="1.6"><line x1="639.48" y1="740.20" x2="639.48" y2="746.70"/><line x1="717.30" y1="740.20" x2="717.30" y2="746.70"/><line x1="795.12" y1="740.20" x2="795.12" y2="746.70"/><line x1="603.80" y1="732.80" x2="610.30" y2="732.80"/><line x1="603.80" y1="686.48" x2="610.30" y2="686.48"/><line x1="603.80" y1="640.16" x2="610.30" y2="640.16"/><line x1="603.80" y1="593.84" x2="610.30" y2="593.84"/><line x1="603.80" y1="547.52" x2="610.30" y2="547.52"/></g>
<g fill="#000" stroke="#000" stroke-width="0.35">
<text x="84.0" y="241.50" font-family="Liberation Serif, serif" font-size="26" text-anchor="end">0.0</text>
<text x="84.0" y="195.18" font-family="Liberation Serif, serif" font-size="26" text-anchor="end">0.3</text>
<text x="84.0" y="148.86" font-family="Liberation Serif, serif" font-size="26" text-anchor="end">0.6</text>
<text x="84.0" y="102.54" font-family="Liberation Serif, serif" font-size="26" text-anchor="end">0.9</text>
<text x="84.0" y="56.22" font-family="Liberation Serif, serif" font-size="26" text-anchor="end">1.2</text>
<text x="84.0" y="491.40" font-family="Liberation Serif, serif" font-size="26" text-anchor="end">0.0</text>
<text x="84.0" y="445.08" font-family="Liberation Serif, serif" font-size="26" text-anchor="end">0.3</text>
<text x="84.0" y="398.76" font-family="Liberation Serif, serif" font-size="26" text-anchor="end">0.6</text>
<text x="84.0" y="352.44" font-family="Liberation Serif, serif" font-size="26" text-anchor="end">0.9</text>
<text x="84.0" y="306.12" font-family="Liberation Serif, serif" font-size="26" text-anchor="end">1.2</text>
<text x="84.0" y="741.30" font-family="Liberation Serif, serif" font-size="26" text-anchor="end">0.0</text>
<text x="84.0" y="694.98" font-family="Liberation Serif, serif" font-size="26" text-anchor="end">0.3</text>
<text x="84.0" y="648.66" font-family="Liberation Serif, serif" font-size="26" text-anchor="end">0.6</text>
<text x="84.0" y="602.34" font-family="Liberation Serif, serif" font-size="26" text-anchor="end">0.9</text>
<text x="84.0" y="556.02" font-family="Liberation Serif, serif" font-size="26" text-anchor="end">1.2</text>
<text x="109.87" y="772.60" font-family="Liberation Serif, serif" font-size="26" textLength="19.39" lengthAdjust="spacingAndGlyphs">−</text>
<text x="129.70" y="770.80" font-family="Liberation Serif, serif" font-size="26">1</text>
<text x="204.10" y="770.8" font-family="Liberation Serif, serif" font-size="26" text-anchor="middle">0</text>
<text x="281.92" y="770.8" font-family="Liberation Serif, serif" font-size="26" text-anchor="middle">1</text>
<text x="366.17" y="772.60" font-family="Liberation Serif, serif" font-size="26" textLength="19.39" lengthAdjust="spacingAndGlyphs">−</text>
<text x="386.00" y="770.80" font-family="Liberation Serif, serif" font-size="26">1</text>
<text x="460.40" y="770.8" font-family="Liberation Serif, serif" font-size="26" text-anchor="middle">0</text>
<text x="538.22" y="770.8" font-family="Liberation Serif, serif" font-size="26" text-anchor="middle">1</text>
<text x="623.07" y="772.60" font-family="Liberation Serif, serif" font-size="26" textLength="19.39" lengthAdjust="spacingAndGlyphs">−</text>
<text x="642.90" y="770.80" font-family="Liberation Serif, serif" font-size="26">1</text>
<text x="717.30" y="770.8" font-family="Liberation Serif, serif" font-size="26" text-anchor="middle">0</text>
<text x="795.12" y="770.8" font-family="Liberation Serif, serif" font-size="26" text-anchor="middle">1</text>
<text x="112.19" y="21.90" font-family="DejaVu Serif, serif" font-size="28" font-style="italic" font-stretch="condensed" stroke-width="0.45">ϕ</text>
<text x="136.92" y="23.55" font-family="Liberation Serif, serif" font-size="30" textLength="25.21" lengthAdjust="spacingAndGlyphs">=</text>
<text x="167.85" y="21.50" font-family="Liberation Serif, serif" font-size="31.5">0</text>
<text x="184.22" y="20.90" font-family="Liberation Serif, serif" font-size="32" stroke="#fff" stroke-width="0.4">°</text>
<text x="196.91" y="20.90" font-family="Liberation Serif, serif" font-size="30">,</text>
<text x="214.46" y="21.70" font-family="DejaVu Serif, serif" font-size="28.5" font-style="italic" font-stretch="condensed" stroke-width="0.7">θ</text>
<text x="238.22" y="23.55" font-family="Liberation Serif, serif" font-size="30" textLength="25.21" lengthAdjust="spacingAndGlyphs">=</text>
<text x="269.15" y="21.50" font-family="Liberation Serif, serif" font-size="31.5">0</text>
<text x="285.52" y="20.90" font-family="Liberation Serif, serif" font-size="32" stroke="#fff" stroke-width="0.4">°</text>
<text x="360.69" y="21.90" font-family="DejaVu Serif, serif" font-size="28" font-style="italic" font-stretch="condensed" stroke-width="0.45">ϕ</text>
<text x="385.42" y="23.55" font-family="Liberation Serif, serif" font-size="30" textLength="25.21" lengthAdjust="spacingAndGlyphs">=</text>
<text x="416.35" y="21.50" font-family="Liberation Serif, serif" font-size="31.5">0</text>
<text x="432.72" y="20.90" font-family="Liberation Serif, serif" font-size="32" stroke="#fff" stroke-width="0.4">°</text>
<text x="445.41" y="20.90" font-family="Liberation Serif, serif" font-size="30">,</text>
<text x="462.96" y="21.70" font-family="DejaVu Serif, serif" font-size="28.5" font-style="italic" font-stretch="condensed" stroke-width="0.7">θ</text>
<text x="486.72" y="23.55" font-family="Liberation Serif, serif" font-size="30" textLength="25.21" lengthAdjust="spacingAndGlyphs">=</text>
<text x="518.78" y="21.50" font-family="Liberation Serif, serif" font-size="31.5">1</text>
<text x="533.25" y="21.50" font-family="Liberation Serif, serif" font-size="31.5">0</text>
<text x="549.62" y="20.90" font-family="Liberation Serif, serif" font-size="32" stroke="#fff" stroke-width="0.4">°</text>
<text x="617.29" y="21.90" font-family="DejaVu Serif, serif" font-size="28" font-style="italic" font-stretch="condensed" stroke-width="0.45">ϕ</text>
<text x="642.02" y="23.55" font-family="Liberation Serif, serif" font-size="30" textLength="25.21" lengthAdjust="spacingAndGlyphs">=</text>
<text x="672.95" y="21.50" font-family="Liberation Serif, serif" font-size="31.5">0</text>
<text x="689.32" y="20.90" font-family="Liberation Serif, serif" font-size="32" stroke="#fff" stroke-width="0.4">°</text>
<text x="702.01" y="20.90" font-family="Liberation Serif, serif" font-size="30">,</text>
<text x="719.56" y="21.70" font-family="DejaVu Serif, serif" font-size="28.5" font-style="italic" font-stretch="condensed" stroke-width="0.7">θ</text>
<text x="743.32" y="23.55" font-family="Liberation Serif, serif" font-size="30" textLength="25.21" lengthAdjust="spacingAndGlyphs">=</text>
<text x="774.77" y="21.50" font-family="Liberation Serif, serif" font-size="31.5">2</text>
<text x="790.45" y="21.50" font-family="Liberation Serif, serif" font-size="31.5">0</text>
<text x="806.82" y="20.90" font-family="Liberation Serif, serif" font-size="32" stroke="#fff" stroke-width="0.4">°</text>
<text x="104.39" y="271.80" font-family="DejaVu Serif, serif" font-size="28" font-style="italic" font-stretch="condensed" stroke-width="0.45">ϕ</text>
<text x="129.12" y="273.45" font-family="Liberation Serif, serif" font-size="30" textLength="25.21" lengthAdjust="spacingAndGlyphs">=</text>
<text x="161.18" y="271.40" font-family="Liberation Serif, serif" font-size="31.5">1</text>
<text x="175.65" y="271.40" font-family="Liberation Serif, serif" font-size="31.5">0</text>
<text x="192.02" y="270.80" font-family="Liberation Serif, serif" font-size="32" stroke="#fff" stroke-width="0.4">°</text>
<text x="204.71" y="270.80" font-family="Liberation Serif, serif" font-size="30">,</text>
<text x="222.26" y="271.60" font-family="DejaVu Serif, serif" font-size="28.5" font-style="italic" font-stretch="condensed" stroke-width="0.7">θ</text>
<text x="246.02" y="273.45" font-family="Liberation Serif, serif" font-size="30" textLength="25.21" lengthAdjust="spacingAndGlyphs">=</text>
<text x="276.95" y="271.40" font-family="Liberation Serif, serif" font-size="31.5">0</text>
<text x="293.32" y="270.80" font-family="Liberation Serif, serif" font-size="32" stroke="#fff" stroke-width="0.4">°</text>
<text x="352.89" y="271.80" font-family="DejaVu Serif, serif" font-size="28" font-style="italic" font-stretch="condensed" stroke-width="0.45">ϕ</text>
<text x="377.62" y="273.45" font-family="Liberation Serif, serif" font-size="30" textLength="25.21" lengthAdjust="spacingAndGlyphs">=</text>
<text x="409.68" y="271.40" font-family="Liberation Serif, serif" font-size="31.5">1</text>
<text x="424.15" y="271.40" font-family="Liberation Serif, serif" font-size="31.5">0</text>
<text x="440.52" y="270.80" font-family="Liberation Serif, serif" font-size="32" stroke="#fff" stroke-width="0.4">°</text>
<text x="453.21" y="270.80" font-family="Liberation Serif, serif" font-size="30">,</text>
<text x="470.76" y="271.60" font-family="DejaVu Serif, serif" font-size="28.5" font-style="italic" font-stretch="condensed" stroke-width="0.7">θ</text>
<text x="494.52" y="273.45" font-family="Liberation Serif, serif" font-size="30" textLength="25.21" lengthAdjust="spacingAndGlyphs">=</text>
<text x="526.58" y="271.40" font-family="Liberation Serif, serif" font-size="31.5">1</text>
<text x="541.05" y="271.40" font-family="Liberation Serif, serif" font-size="31.5">0</text>
<text x="557.42" y="270.80" font-family="Liberation Serif, serif" font-size="32" stroke="#fff" stroke-width="0.4">°</text>
<text x="609.49" y="271.80" font-family="DejaVu Serif, serif" font-size="28" font-style="italic" font-stretch="condensed" stroke-width="0.45">ϕ</text>
<text x="634.22" y="273.45" font-family="Liberation Serif, serif" font-size="30" textLength="25.21" lengthAdjust="spacingAndGlyphs">=</text>
<text x="666.28" y="271.40" font-family="Liberation Serif, serif" font-size="31.5">1</text>
<text x="680.75" y="271.40" font-family="Liberation Serif, serif" font-size="31.5">0</text>
<text x="697.12" y="270.80" font-family="Liberation Serif, serif" font-size="32" stroke="#fff" stroke-width="0.4">°</text>
<text x="709.81" y="270.80" font-family="Liberation Serif, serif" font-size="30">,</text>
<text x="727.36" y="271.60" font-family="DejaVu Serif, serif" font-size="28.5" font-style="italic" font-stretch="condensed" stroke-width="0.7">θ</text>
<text x="751.12" y="273.45" font-family="Liberation Serif, serif" font-size="30" textLength="25.21" lengthAdjust="spacingAndGlyphs">=</text>
<text x="782.57" y="271.40" font-family="Liberation Serif, serif" font-size="31.5">2</text>
<text x="798.25" y="271.40" font-family="Liberation Serif, serif" font-size="31.5">0</text>
<text x="814.62" y="270.80" font-family="Liberation Serif, serif" font-size="32" stroke="#fff" stroke-width="0.4">°</text>
<text x="104.09" y="521.70" font-family="DejaVu Serif, serif" font-size="28" font-style="italic" font-stretch="condensed" stroke-width="0.45">ϕ</text>
<text x="128.82" y="523.35" font-family="Liberation Serif, serif" font-size="30" textLength="25.21" lengthAdjust="spacingAndGlyphs">=</text>
<text x="160.27" y="521.30" font-family="Liberation Serif, serif" font-size="31.5">2</text>
<text x="175.95" y="521.30" font-family="Liberation Serif, serif" font-size="31.5">0</text>
<text x="192.32" y="520.70" font-family="Liberation Serif, serif" font-size="32" stroke="#fff" stroke-width="0.4">°</text>
<text x="205.01" y="520.70" font-family="Liberation Serif, serif" font-size="30">,</text>
<text x="222.56" y="521.50" font-family="DejaVu Serif, serif" font-size="28.5" font-style="italic" font-stretch="condensed" stroke-width="0.7">θ</text>
<text x="246.32" y="523.35" font-family="Liberation Serif, serif" font-size="30" textLength="25.21" lengthAdjust="spacingAndGlyphs">=</text>
<text x="277.25" y="521.30" font-family="Liberation Serif, serif" font-size="31.5">0</text>
<text x="293.62" y="520.70" font-family="Liberation Serif, serif" font-size="32" stroke="#fff" stroke-width="0.4">°</text>
<text x="352.59" y="521.70" font-family="DejaVu Serif, serif" font-size="28" font-style="italic" font-stretch="condensed" stroke-width="0.45">ϕ</text>
<text x="377.32" y="523.35" font-family="Liberation Serif, serif" font-size="30" textLength="25.21" lengthAdjust="spacingAndGlyphs">=</text>
<text x="408.77" y="521.30" font-family="Liberation Serif, serif" font-size="31.5">2</text>
<text x="424.45" y="521.30" font-family="Liberation Serif, serif" font-size="31.5">0</text>
<text x="440.82" y="520.70" font-family="Liberation Serif, serif" font-size="32" stroke="#fff" stroke-width="0.4">°</text>
<text x="453.51" y="520.70" font-family="Liberation Serif, serif" font-size="30">,</text>
<text x="471.06" y="521.50" font-family="DejaVu Serif, serif" font-size="28.5" font-style="italic" font-stretch="condensed" stroke-width="0.7">θ</text>
<text x="494.82" y="523.35" font-family="Liberation Serif, serif" font-size="30" textLength="25.21" lengthAdjust="spacingAndGlyphs">=</text>
<text x="526.88" y="521.30" font-family="Liberation Serif, serif" font-size="31.5">1</text>
<text x="541.35" y="521.30" font-family="Liberation Serif, serif" font-size="31.5">0</text>
<text x="557.72" y="520.70" font-family="Liberation Serif, serif" font-size="32" stroke="#fff" stroke-width="0.4">°</text>
<text x="609.19" y="521.70" font-family="DejaVu Serif, serif" font-size="28" font-style="italic" font-stretch="condensed" stroke-width="0.45">ϕ</text>
<text x="633.92" y="523.35" font-family="Liberation Serif, serif" font-size="30" textLength="25.21" lengthAdjust="spacingAndGlyphs">=</text>
<text x="665.37" y="521.30" font-family="Liberation Serif, serif" font-size="31.5">2</text>
<text x="681.05" y="521.30" font-family="Liberation Serif, serif" font-size="31.5">0</text>
<text x="697.42" y="520.70" font-family="Liberation Serif, serif" font-size="32" stroke="#fff" stroke-width="0.4">°</text>
<text x="710.11" y="520.70" font-family="Liberation Serif, serif" font-size="30">,</text>
<text x="727.66" y="521.50" font-family="DejaVu Serif, serif" font-size="28.5" font-style="italic" font-stretch="condensed" stroke-width="0.7">θ</text>
<text x="751.42" y="523.35" font-family="Liberation Serif, serif" font-size="30" textLength="25.21" lengthAdjust="spacingAndGlyphs">=</text>
<text x="782.87" y="521.30" font-family="Liberation Serif, serif" font-size="31.5">2</text>
<text x="798.55" y="521.30" font-family="Liberation Serif, serif" font-size="31.5">0</text>
<text x="814.92" y="520.70" font-family="Liberation Serif, serif" font-size="32" stroke="#fff" stroke-width="0.4">°</text>
<text x="162.6" y="807.6" font-family="Liberation Serif, serif" font-size="26">Two Photon Frequency Detuning</text>
<text x="513.74" y="807.60" font-family="DejaVu Serif, serif" font-size="26" font-style="italic" font-stretch="condensed">ν</text>
<text x="527.6" y="812.00" font-family="Liberation Serif, serif" font-style="italic" font-size="18.5">RF</text>
<text x="557.74" y="809.10" font-family="Liberation Serif, serif" font-size="26" textLength="18.79" lengthAdjust="spacingAndGlyphs">−</text>
<text x="580.0" y="807.6" font-family="Liberation Serif, serif" font-size="26">6.8 GHz, MHz</text>
<text transform="translate(17.7,394.5) rotate(-90)" font-family="Liberation Serif, serif" font-size="26" text-anchor="middle">Optical Transmission Power</text>
</g>
<rect x="513.5" y="45.2" width="297.70" height="81.10" rx="5" ry="5" fill="#fff" stroke="#cccccc" stroke-width="1.6"/>
<line x1="522.3" y1="64.8" x2="577.7" y2="64.8" stroke="#008000" stroke-width="3.2"/>
<line x1="523.7" y1="101.6" x2="576.3" y2="101.6" stroke="#0000ff" stroke-width="3.2" stroke-dasharray="10.6,4.2"/>
<g fill="#000" stroke="#000" stroke-width="0.35">
<text x="596" y="73.8" font-size="26" font-family="Liberation Serif, serif">Original Data</text>
<text x="596" y="110.3" font-size="26" font-family="Liberation Serif, serif">Reconstructed Data</text>
</g>
</svg>
</body></html>
